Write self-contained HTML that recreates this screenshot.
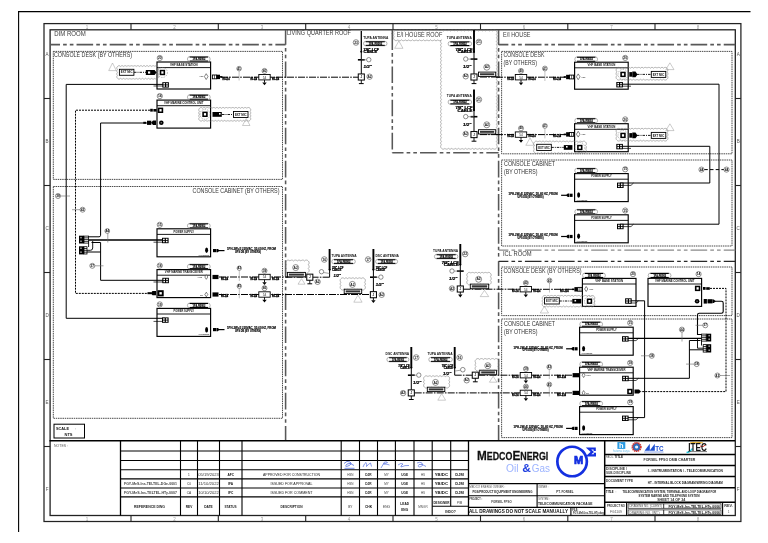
<!DOCTYPE html>
<html><head><meta charset="utf-8"><title>VHF Block Diagram</title>
<style>html,body{margin:0;padding:0;background:#fff;}svg{display:block}text{font-family:"Liberation Sans",sans-serif}</style>
</head><body>
<svg width="768" height="543" viewBox="0 0 768 543" shape-rendering="geometricPrecision" style="will-change:transform">
<rect x="0" y="0" width="768" height="543" fill="#fff"/>
<line x1="18" y1="11.6" x2="750.5" y2="11.6" stroke="#000" stroke-width="1.1"/>
<line x1="18.6" y1="11" x2="18.6" y2="532" stroke="#000" stroke-width="1.1"/>
<rect x="44" y="23.6" width="696.9" height="497.9" fill="none" stroke="#222" stroke-width="1.25"/>
<rect x="50.1" y="29.8" width="685.2" height="485.7" fill="none" stroke="#222" stroke-width="1.3"/>
<line x1="131" y1="23.6" x2="131" y2="29.8" stroke="#222" stroke-width="1.1"/>
<line x1="131" y1="515.5" x2="131" y2="521.5" stroke="#222" stroke-width="1.1"/>
<line x1="218.3" y1="23.6" x2="218.3" y2="29.8" stroke="#222" stroke-width="1.1"/>
<line x1="218.3" y1="515.5" x2="218.3" y2="521.5" stroke="#222" stroke-width="1.1"/>
<line x1="305.7" y1="23.6" x2="305.7" y2="29.8" stroke="#222" stroke-width="1.1"/>
<line x1="305.7" y1="515.5" x2="305.7" y2="521.5" stroke="#222" stroke-width="1.1"/>
<line x1="393" y1="23.6" x2="393" y2="29.8" stroke="#222" stroke-width="1.1"/>
<line x1="393" y1="515.5" x2="393" y2="521.5" stroke="#222" stroke-width="1.1"/>
<line x1="480.5" y1="23.6" x2="480.5" y2="29.8" stroke="#222" stroke-width="1.1"/>
<line x1="480.5" y1="515.5" x2="480.5" y2="521.5" stroke="#222" stroke-width="1.1"/>
<line x1="567.8" y1="23.6" x2="567.8" y2="29.8" stroke="#222" stroke-width="1.1"/>
<line x1="567.8" y1="515.5" x2="567.8" y2="521.5" stroke="#222" stroke-width="1.1"/>
<line x1="655" y1="23.6" x2="655" y2="29.8" stroke="#222" stroke-width="1.1"/>
<line x1="655" y1="515.5" x2="655" y2="521.5" stroke="#222" stroke-width="1.1"/>
<line x1="44" y1="98.5" x2="50.1" y2="98.5" stroke="#222" stroke-width="1.1"/>
<line x1="735.3" y1="98.5" x2="740.9" y2="98.5" stroke="#222" stroke-width="1.1"/>
<line x1="44" y1="185.5" x2="50.1" y2="185.5" stroke="#222" stroke-width="1.1"/>
<line x1="735.3" y1="185.5" x2="740.9" y2="185.5" stroke="#222" stroke-width="1.1"/>
<line x1="44" y1="272.5" x2="50.1" y2="272.5" stroke="#222" stroke-width="1.1"/>
<line x1="735.3" y1="272.5" x2="740.9" y2="272.5" stroke="#222" stroke-width="1.1"/>
<line x1="44" y1="359.5" x2="50.1" y2="359.5" stroke="#222" stroke-width="1.1"/>
<line x1="735.3" y1="359.5" x2="740.9" y2="359.5" stroke="#222" stroke-width="1.1"/>
<line x1="44" y1="446.5" x2="50.1" y2="446.5" stroke="#222" stroke-width="1.1"/>
<line x1="735.3" y1="446.5" x2="740.9" y2="446.5" stroke="#222" stroke-width="1.1"/>
<text x="87" y="28.6" font-family="Liberation Sans" font-size="4.5" text-anchor="middle" fill="#999">1</text>
<text x="87" y="520.6" font-family="Liberation Sans" font-size="4.5" text-anchor="middle" fill="#999">1</text>
<text x="174.5" y="28.6" font-family="Liberation Sans" font-size="4.5" text-anchor="middle" fill="#999">2</text>
<text x="174.5" y="520.6" font-family="Liberation Sans" font-size="4.5" text-anchor="middle" fill="#999">2</text>
<text x="262" y="28.6" font-family="Liberation Sans" font-size="4.5" text-anchor="middle" fill="#999">3</text>
<text x="262" y="520.6" font-family="Liberation Sans" font-size="4.5" text-anchor="middle" fill="#999">3</text>
<text x="349" y="28.6" font-family="Liberation Sans" font-size="4.5" text-anchor="middle" fill="#999">4</text>
<text x="349" y="520.6" font-family="Liberation Sans" font-size="4.5" text-anchor="middle" fill="#999">4</text>
<text x="436.5" y="28.6" font-family="Liberation Sans" font-size="4.5" text-anchor="middle" fill="#999">5</text>
<text x="436.5" y="520.6" font-family="Liberation Sans" font-size="4.5" text-anchor="middle" fill="#999">5</text>
<text x="524" y="28.6" font-family="Liberation Sans" font-size="4.5" text-anchor="middle" fill="#999">6</text>
<text x="524" y="520.6" font-family="Liberation Sans" font-size="4.5" text-anchor="middle" fill="#999">6</text>
<text x="611.5" y="28.6" font-family="Liberation Sans" font-size="4.5" text-anchor="middle" fill="#999">7</text>
<text x="611.5" y="520.6" font-family="Liberation Sans" font-size="4.5" text-anchor="middle" fill="#999">7</text>
<text x="698" y="28.6" font-family="Liberation Sans" font-size="4.5" text-anchor="middle" fill="#999">8</text>
<text x="698" y="520.6" font-family="Liberation Sans" font-size="4.5" text-anchor="middle" fill="#999">8</text>
<text x="47" y="55.5" font-family="Liberation Sans" font-size="4.5" text-anchor="middle" fill="#555">A</text>
<text x="738.2" y="55.5" font-family="Liberation Sans" font-size="4.5" text-anchor="middle" fill="#555">A</text>
<text x="47" y="142.5" font-family="Liberation Sans" font-size="4.5" text-anchor="middle" fill="#555">B</text>
<text x="738.2" y="142.5" font-family="Liberation Sans" font-size="4.5" text-anchor="middle" fill="#555">B</text>
<text x="47" y="229.5" font-family="Liberation Sans" font-size="4.5" text-anchor="middle" fill="#555">C</text>
<text x="738.2" y="229.5" font-family="Liberation Sans" font-size="4.5" text-anchor="middle" fill="#555">C</text>
<text x="47" y="316.5" font-family="Liberation Sans" font-size="4.5" text-anchor="middle" fill="#555">D</text>
<text x="738.2" y="316.5" font-family="Liberation Sans" font-size="4.5" text-anchor="middle" fill="#555">D</text>
<text x="47" y="403.5" font-family="Liberation Sans" font-size="4.5" text-anchor="middle" fill="#555">E</text>
<text x="738.2" y="403.5" font-family="Liberation Sans" font-size="4.5" text-anchor="middle" fill="#555">E</text>
<text x="47" y="490.5" font-family="Liberation Sans" font-size="4.5" text-anchor="middle" fill="#555">F</text>
<text x="738.2" y="490.5" font-family="Liberation Sans" font-size="4.5" text-anchor="middle" fill="#555">F</text>
<text x="54.2" y="36.4" font-family="Liberation Sans" font-size="6.3" textLength="31.5" lengthAdjust="spacingAndGlyphs" fill="#3a3a3a">DIM ROOM</text>
<line x1="50.1" y1="44.6" x2="285.6" y2="44.6" stroke="#585858" stroke-width="1.55" stroke-dasharray="16.6 3.1 3.65 3.05 3.65 3.09" stroke-dashoffset="6.7"/>
<text x="287" y="35.4" font-family="Liberation Sans" font-size="6.3" textLength="64" lengthAdjust="spacingAndGlyphs" fill="#3a3a3a">LIVING QUARTER ROOF</text>
<line x1="285.6" y1="30" x2="285.6" y2="440.7" stroke="#585858" stroke-width="1.55" stroke-dasharray="16.6 3.1 3.65 3.05 3.65 3.09" stroke-dashoffset="1.74"/>
<text x="396.8" y="36.8" font-family="Liberation Sans" font-size="6.3" textLength="45.5" lengthAdjust="spacingAndGlyphs" fill="#3a3a3a">E/I HOUSE ROOF</text>
<line x1="392.3" y1="30" x2="392.3" y2="34" stroke="#505050" stroke-width="1.45"/>
<line x1="392.3" y1="30" x2="392.3" y2="152.8" stroke="#585858" stroke-width="1.55" stroke-dasharray="16.6 3.1 3.65 3.05 3.65 3.09" stroke-dashoffset="29.78"/>
<line x1="392.3" y1="152.8" x2="498.6" y2="152.8" stroke="#585858" stroke-width="1.55" stroke-dasharray="16.6 3.1 3.65 3.05 3.65 3.09" stroke-dashoffset="5.4"/>
<line x1="498.6" y1="30" x2="498.6" y2="250.1" stroke="#585858" stroke-width="1.55" stroke-dasharray="16.6 3.1 3.65 3.05 3.65 3.09" stroke-dashoffset="1.7"/>
<line x1="498.6" y1="253" x2="498.6" y2="256.6" stroke="#505050" stroke-width="1.45"/>
<line x1="498.6" y1="261.3" x2="498.6" y2="440.7" stroke="#585858" stroke-width="1.55" stroke-dasharray="16.6 3.1 3.65 3.05 3.65 3.09" stroke-dashoffset="1.9"/>
<text x="503" y="36.8" font-family="Liberation Sans" font-size="6.3" textLength="27.5" lengthAdjust="spacingAndGlyphs" fill="#3a3a3a">E/I HOUSE</text>
<line x1="498.6" y1="44.6" x2="735.3" y2="44.6" stroke="#585858" stroke-width="1.55" stroke-dasharray="16.6 3.1 3.65 3.05 3.65 3.09" stroke-dashoffset="6.84"/>
<line x1="498.6" y1="250.1" x2="735.3" y2="250.1" stroke="#8a8a8a" stroke-width="1.1" stroke-dasharray="16.6 3.1 3.65 3.05 3.65 3.09" stroke-dashoffset="6.84"/>
<text x="503" y="256.4" font-family="Liberation Sans" font-size="6.6" textLength="28.6" lengthAdjust="spacingAndGlyphs" fill="#3a3a3a">ICL ROOM</text>
<line x1="498.6" y1="261.4" x2="735.3" y2="261.4" stroke="#2a2a2a" stroke-width="1.4" stroke-dasharray="16.6 3.1 3.65 3.05 3.65 3.09" stroke-dashoffset="6.84"/>
<rect x="53.3" y="51.4" width="229.2" height="128.0" fill="none" stroke="#2a2a2a" stroke-width="0.85" stroke-dasharray="1.5 0.75"/>
<rect x="53.3" y="186.5" width="229.2" height="231.8" fill="none" stroke="#2a2a2a" stroke-width="0.85" stroke-dasharray="1.5 0.75"/>
<rect x="501.6" y="51.4" width="230.39999999999998" height="102.4" fill="none" stroke="#2a2a2a" stroke-width="0.85" stroke-dasharray="1.5 0.75"/>
<rect x="501.6" y="160" width="230.39999999999998" height="86" fill="none" stroke="#2a2a2a" stroke-width="0.85" stroke-dasharray="1.5 0.75"/>
<rect x="501.6" y="267" width="230.39999999999998" height="48.60000000000002" fill="none" stroke="#2a2a2a" stroke-width="0.85" stroke-dasharray="1.5 0.75"/>
<rect x="501.6" y="319" width="230.39999999999998" height="118.60000000000002" fill="none" stroke="#2a2a2a" stroke-width="0.85" stroke-dasharray="1.5 0.75"/>
<text x="54" y="56.9" font-family="Liberation Sans" font-size="6.6" textLength="78" lengthAdjust="spacingAndGlyphs" fill="#333">CONSOLE DESK (BY OTHERS)</text>
<text x="192.5" y="193.3" font-family="Liberation Sans" font-size="6.6" textLength="87" lengthAdjust="spacingAndGlyphs" fill="#333">CONSOLE CABINET (BY OTHERS)</text>
<text x="503.5" y="56.7" font-family="Liberation Sans" font-size="6.6" textLength="41" lengthAdjust="spacingAndGlyphs" fill="#333">CONSOLE DESK</text>
<text x="503.5" y="64.8" font-family="Liberation Sans" font-size="6.6" textLength="33.5" lengthAdjust="spacingAndGlyphs" fill="#333">(BY OTHERS)</text>
<text x="504" y="166.3" font-family="Liberation Sans" font-size="6.6" textLength="51" lengthAdjust="spacingAndGlyphs" fill="#333">CONSOLE CABINET</text>
<text x="504" y="174.4" font-family="Liberation Sans" font-size="6.6" textLength="33.5" lengthAdjust="spacingAndGlyphs" fill="#333">(BY OTHERS)</text>
<text x="503.5" y="273.3" font-family="Liberation Sans" font-size="6.6" textLength="78" lengthAdjust="spacingAndGlyphs" fill="#333">CONSOLE DESK (BY OTHERS)</text>
<text x="504" y="325.6" font-family="Liberation Sans" font-size="6.6" textLength="51" lengthAdjust="spacingAndGlyphs" fill="#333">CONSOLE CABINET</text>
<text x="504" y="333.7" font-family="Liberation Sans" font-size="6.6" textLength="33.5" lengthAdjust="spacingAndGlyphs" fill="#333">(BY OTHERS)</text>
<rect x="157" y="62.0" width="53.6" height="27.0" fill="#fff" stroke="#000" stroke-width="1.15"/>
<line x1="157" y1="67.6" x2="210.6" y2="67.6" stroke="#000" stroke-width="0.9"/>
<text x="169.95000000000002" y="65.8" font-family="Liberation Sans" font-size="2.8" font-weight="bold" textLength="27.7" lengthAdjust="spacingAndGlyphs" fill="#111">VHF BASE STATION</text>
<circle cx="159.8" cy="58.0" r="2.6" fill="#fff" stroke="#333" stroke-width="0.55"/>
<text x="159.8" y="59.15" font-family="Liberation Sans" font-size="3.3" text-anchor="middle" font-weight="bold" fill="#111">20</text>
<rect x="187.4" y="56.6" width="22.8" height="4.9" fill="#fff" stroke="#666" stroke-width="0.5" rx="2.45"/>
<line x1="189.6" y1="57.050000000000004" x2="208.00000000000003" y2="57.050000000000004" stroke="#000" stroke-width="1.05"/>
<line x1="189.6" y1="61.05" x2="208.00000000000003" y2="61.05" stroke="#000" stroke-width="1.05"/>
<text x="192.6" y="60.2" font-family="Liberation Sans" font-size="3.1" font-weight="bold" textLength="12.8" lengthAdjust="spacingAndGlyphs" stroke="#000" stroke-width="0.15" fill="#000">1FA-R0002</text>
<rect x="157" y="100.1" width="53.6" height="28.0" fill="#fff" stroke="#000" stroke-width="1.15"/>
<line x1="157" y1="105.69999999999999" x2="210.6" y2="105.69999999999999" stroke="#000" stroke-width="0.9"/>
<text x="164.05" y="103.89999999999999" font-family="Liberation Sans" font-size="2.8" font-weight="bold" textLength="39.5" lengthAdjust="spacingAndGlyphs" fill="#111">VHF MARINE CONTROL UNIT</text>
<circle cx="159.8" cy="96.1" r="2.6" fill="#fff" stroke="#333" stroke-width="0.55"/>
<text x="159.8" y="97.25" font-family="Liberation Sans" font-size="3.3" text-anchor="middle" font-weight="bold" fill="#111">14</text>
<rect x="187.4" y="94.69999999999999" width="22.8" height="4.9" fill="#fff" stroke="#666" stroke-width="0.5" rx="2.45"/>
<line x1="189.6" y1="95.14999999999999" x2="208.00000000000003" y2="95.14999999999999" stroke="#000" stroke-width="1.05"/>
<line x1="189.6" y1="99.14999999999999" x2="208.00000000000003" y2="99.14999999999999" stroke="#000" stroke-width="1.05"/>
<text x="192.6" y="98.3" font-family="Liberation Sans" font-size="3.1" font-weight="bold" textLength="12.8" lengthAdjust="spacingAndGlyphs" stroke="#000" stroke-width="0.15" fill="#000">1FA-R0002</text>
<rect x="157" y="228.8" width="53.6" height="28.0" fill="#fff" stroke="#000" stroke-width="1.15"/>
<line x1="157" y1="234.4" x2="210.6" y2="234.4" stroke="#000" stroke-width="0.9"/>
<text x="173.55" y="232.6" font-family="Liberation Sans" font-size="2.8" font-weight="bold" textLength="20.5" lengthAdjust="spacingAndGlyphs" fill="#111">POWER SUPPLY</text>
<circle cx="159.8" cy="224.8" r="2.6" fill="#fff" stroke="#333" stroke-width="0.55"/>
<text x="159.8" y="225.95000000000002" font-family="Liberation Sans" font-size="3.3" text-anchor="middle" font-weight="bold" fill="#111">15</text>
<rect x="187.4" y="223.4" width="22.8" height="4.9" fill="#fff" stroke="#666" stroke-width="0.5" rx="2.45"/>
<line x1="189.6" y1="223.85" x2="208.00000000000003" y2="223.85" stroke="#000" stroke-width="1.05"/>
<line x1="189.6" y1="227.85000000000002" x2="208.00000000000003" y2="227.85000000000002" stroke="#000" stroke-width="1.05"/>
<text x="192.6" y="227.0" font-family="Liberation Sans" font-size="3.1" font-weight="bold" textLength="12.8" lengthAdjust="spacingAndGlyphs" stroke="#000" stroke-width="0.15" fill="#000">1FA-R0002</text>
<rect x="157" y="269.6" width="53.6" height="28.0" fill="#fff" stroke="#000" stroke-width="1.15"/>
<line x1="157" y1="275.20000000000005" x2="210.6" y2="275.20000000000005" stroke="#000" stroke-width="0.9"/>
<text x="164.8" y="273.40000000000003" font-family="Liberation Sans" font-size="2.8" font-weight="bold" textLength="38" lengthAdjust="spacingAndGlyphs" fill="#111">VHF MARINE TRANSCEIVER</text>
<circle cx="159.8" cy="265.6" r="2.6" fill="#fff" stroke="#333" stroke-width="0.55"/>
<text x="159.8" y="266.75" font-family="Liberation Sans" font-size="3.3" text-anchor="middle" font-weight="bold" fill="#111">18</text>
<rect x="187.4" y="264.20000000000005" width="22.8" height="4.9" fill="#fff" stroke="#666" stroke-width="0.5" rx="2.45"/>
<line x1="189.6" y1="264.65000000000003" x2="208.00000000000003" y2="264.65000000000003" stroke="#000" stroke-width="1.05"/>
<line x1="189.6" y1="268.65000000000003" x2="208.00000000000003" y2="268.65000000000003" stroke="#000" stroke-width="1.05"/>
<text x="192.6" y="267.8" font-family="Liberation Sans" font-size="3.1" font-weight="bold" textLength="12.8" lengthAdjust="spacingAndGlyphs" stroke="#000" stroke-width="0.15" fill="#000">1FA-R0002</text>
<rect x="157" y="308.4" width="53.6" height="28.0" fill="#fff" stroke="#000" stroke-width="1.15"/>
<line x1="157" y1="314.0" x2="210.6" y2="314.0" stroke="#000" stroke-width="0.9"/>
<text x="173.55" y="312.2" font-family="Liberation Sans" font-size="2.8" font-weight="bold" textLength="20.5" lengthAdjust="spacingAndGlyphs" fill="#111">POWER SUPPLY</text>
<circle cx="159.8" cy="304.4" r="2.6" fill="#fff" stroke="#333" stroke-width="0.55"/>
<text x="159.8" y="305.54999999999995" font-family="Liberation Sans" font-size="3.3" text-anchor="middle" font-weight="bold" fill="#111">19</text>
<rect x="187.4" y="303.0" width="22.8" height="4.9" fill="#fff" stroke="#666" stroke-width="0.5" rx="2.45"/>
<line x1="189.6" y1="303.45" x2="208.00000000000003" y2="303.45" stroke="#000" stroke-width="1.05"/>
<line x1="189.6" y1="307.45" x2="208.00000000000003" y2="307.45" stroke="#000" stroke-width="1.05"/>
<text x="192.6" y="306.59999999999997" font-family="Liberation Sans" font-size="3.1" font-weight="bold" textLength="12.8" lengthAdjust="spacingAndGlyphs" stroke="#000" stroke-width="0.15" fill="#000">1FA-R0002</text>
<polyline points="165,84.4 66.2,84.4 66.2,318.3 165,318.3" fill="none" stroke="#000" stroke-width="1"/>
<line x1="153.5" y1="86" x2="165" y2="86" stroke="#000" stroke-width="0.7"/>
<polyline points="150,110.2 75.5,110.2 75.5,293.4 150,293.4" fill="none" stroke="#000" stroke-width="1" stroke-dasharray="2 1"/>
<path d="M147,123 L100.6,123 L100.6,235.3 Q100.6,236.8 99,236.8 L88,236.8" fill="none" stroke="#000" stroke-width="1" />
<line x1="88" y1="240.0" x2="165" y2="240.0" stroke="#000" stroke-width="1.3"/>
<path d="M91.5,242.5 L100.6,242.5 L100.6,280.3 L165,280.3" fill="none" stroke="#000" stroke-width="1" />
<line x1="86" y1="252" x2="100.6" y2="252" stroke="#000" stroke-width="1"/>
<line x1="88.6" y1="240" x2="88.6" y2="247" stroke="#000" stroke-width="0.9"/>
<path d="M92.7,241 L92.7,248 Q92.7,250.3 90.4,250.3 L86,250.3" fill="none" stroke="#000" stroke-width="0.9" />
<line x1="153.5" y1="242.2" x2="165" y2="242.2" stroke="#000" stroke-width="0.7"/>
<line x1="153.5" y1="282" x2="165" y2="282" stroke="#000" stroke-width="0.7"/>
<line x1="153.5" y1="321.4" x2="165" y2="321.4" stroke="#000" stroke-width="0.7"/>
<circle cx="162.4" cy="72.5" r="5" fill="none" stroke="#777" stroke-width="0.5" stroke-dasharray="1.5 1"/>
<rect x="159.70000000000002" y="69.8" width="5.4" height="5.4" fill="#000" stroke="none" stroke-width="0"/>
<rect x="161.3" y="71.3" width="2.2" height="2.4" fill="#fff" stroke="none" stroke-width="0"/>
<rect x="162.29999999999998" y="82.2" width="6.6" height="5.4" fill="#000" stroke="none" stroke-width="0"/>
<rect x="163.4" y="83.10000000000001" width="1.6" height="1.4" fill="#fff" stroke="none" stroke-width="0"/>
<rect x="163.4" y="85.30000000000001" width="1.6" height="1.4" fill="#fff" stroke="none" stroke-width="0"/>
<rect x="166.2" y="83.10000000000001" width="1.6" height="1.4" fill="#fff" stroke="none" stroke-width="0"/>
<rect x="166.2" y="85.30000000000001" width="1.6" height="1.4" fill="#fff" stroke="none" stroke-width="0"/>
<text x="199.3" y="77.4" font-family="Liberation Sans" font-size="2.1" font-weight="bold" fill="#333">ANT</text>
<path d="M206.2,73.69999999999999 L208.0,76.6 L206.2,79.5 L204.39999999999998,76.6 Z" fill="#fff" stroke="#222" stroke-width="0.55" />
<path d="M117.5,66.5 A1.93,1.93 0 0 1 120.62,66.50 A1.93,1.93 0 0 1 123.73,66.50 A1.93,1.93 0 0 1 126.85,66.50 A1.93,1.93 0 0 1 129.96,66.50 A1.93,1.93 0 0 1 133.08,66.50 A1.93,1.93 0 0 1 136.19,66.50 A1.93,1.93 0 0 1 139.31,66.50 A1.93,1.93 0 0 1 142.42,66.50 A1.93,1.93 0 0 1 145.54,66.50 A1.93,1.93 0 0 1 148.65,66.50 A1.93,1.93 0 0 1 151.77,66.50 A1.93,1.93 0 0 1 154.88,66.50 A1.93,1.93 0 0 1 158.00,66.50 A1.83,1.83 0 0 1 158.00,69.45 A1.83,1.83 0 0 1 158.00,72.40 A1.83,1.83 0 0 1 158.00,75.35 A1.83,1.83 0 0 1 158.00,78.30 A1.93,1.93 0 0 1 154.88,78.30 A1.93,1.93 0 0 1 151.77,78.30 A1.93,1.93 0 0 1 148.65,78.30 A1.93,1.93 0 0 1 145.54,78.30 A1.93,1.93 0 0 1 142.42,78.30 A1.93,1.93 0 0 1 139.31,78.30 A1.93,1.93 0 0 1 136.19,78.30 A1.93,1.93 0 0 1 133.08,78.30 A1.93,1.93 0 0 1 129.96,78.30 A1.93,1.93 0 0 1 126.85,78.30 A1.93,1.93 0 0 1 123.73,78.30 A1.93,1.93 0 0 1 120.62,78.30 A1.93,1.93 0 0 1 117.50,78.30 A1.83,1.83 0 0 1 117.50,75.35 A1.83,1.83 0 0 1 117.50,72.40 A1.83,1.83 0 0 1 117.50,69.45 A1.83,1.83 0 0 1 117.50,66.50" fill="none" stroke="#777" stroke-width="0.55" />
<path d="M112.5,63 L116.3,70.6 L108.7,70.6 Z" fill="none" stroke="#999" stroke-width="0.5" />
<rect x="119.4" y="69.3" width="14.5" height="6" fill="#fff" stroke="#000" stroke-width="0.9"/>
<text x="126.65" y="73.39999999999999" font-family="Liberation Sans" font-size="2.9" text-anchor="middle" font-weight="bold" fill="#111">EXT MIC</text>
<line x1="134" y1="72.3" x2="146" y2="72.3" stroke="#000" stroke-width="0.9" stroke-dasharray="2.5 1 1 1"/>
<path d="M145.8,70.0 L154.60000000000002,70.0 L156.60000000000002,72.5 L154.60000000000002,75.0 L145.8,75.0 Z" fill="#000" stroke="none" stroke-width="0" />
<rect x="148" y="71.4" width="2.2" height="2.2" fill="#fff" stroke="none" stroke-width="0"/>
<line x1="221" y1="77.2" x2="358.5" y2="77.2" stroke="#000" stroke-width="1" stroke-dasharray="7 1.2 1.6 1.2"/>
<rect x="212.4" y="75.0" width="4.2" height="3.8" fill="#fff" stroke="#000" stroke-width="0.9"/>
<line x1="214.5" y1="75.0" x2="214.5" y2="78.80000000000001" stroke="#000" stroke-width="0.6"/>
<rect x="216.6" y="74.7" width="3.4" height="4.4" fill="#000" stroke="none" stroke-width="0"/>
<line x1="220.0" y1="76.9" x2="222.4" y2="76.9" stroke="#000" stroke-width="1.6"/>
<text x="222.5" y="79.89999999999999" font-family="Liberation Sans" font-size="2.7" font-weight="bold" textLength="7" lengthAdjust="spacingAndGlyphs" stroke="#000" stroke-width="0.3" fill="#000">RG-214</text>
<text x="250.5" y="79.89999999999999" font-family="Liberation Sans" font-size="2.7" font-weight="bold" textLength="6.5" lengthAdjust="spacingAndGlyphs" stroke="#000" stroke-width="0.3" fill="#000">RG-214</text>
<text x="272" y="79.89999999999999" font-family="Liberation Sans" font-size="2.7" font-weight="bold" textLength="7" lengthAdjust="spacingAndGlyphs" stroke="#000" stroke-width="0.3" fill="#000">RG-214</text>
<circle cx="239.1" cy="68.6" r="2.3" fill="#fff" stroke="#333" stroke-width="0.55"/>
<text x="239.1" y="69.75" font-family="Liberation Sans" font-size="3.3" text-anchor="middle" font-weight="bold" fill="#111">41</text>
<line x1="239.1" y1="70.9" x2="239.1" y2="80.5" stroke="#888" stroke-width="0.5"/>
<rect x="258.8" y="74.5" width="11.4" height="5.4" fill="#fff" stroke="#000" stroke-width="0.9"/>
<text x="264.5" y="78.5" font-family="Liberation Sans" font-size="3.2" text-anchor="middle" fill="#222">54</text>
<circle cx="264.5" cy="70.9" r="2.5" fill="#fff" stroke="#333" stroke-width="0.55"/>
<text x="264.5" y="72.05000000000001" font-family="Liberation Sans" font-size="3.3" text-anchor="middle" font-weight="bold" fill="#111">40</text>
<line x1="264.5" y1="79.9" x2="264.5" y2="82.5" stroke="#000" stroke-width="0.9"/>
<path d="M262.3,82.5 L266.7,82.5 L264.5,85.3 Z" fill="#000" stroke="none" stroke-width="0" />
<rect x="157.8" y="107.6" width="5.4" height="5.4" fill="#000" stroke="none" stroke-width="0"/>
<rect x="159.4" y="109.1" width="2.2" height="2.4" fill="#fff" stroke="none" stroke-width="0"/>
<rect x="150.2" y="108.8" width="2.6" height="2.8" fill="#000" stroke="none" stroke-width="0"/>
<rect x="153.4" y="109" width="3.2" height="2.6" fill="#000" stroke="none" stroke-width="0"/>
<circle cx="161.3" cy="122.8" r="2.3" fill="#000" stroke="none" stroke-width="0"/>
<circle cx="161.3" cy="122.8" r="0.8" fill="#777" stroke="none" stroke-width="0"/>
<path d="M156,120.5 L153,120.5 L151,122.8 L153,125.1 L156,125.1 Z" fill="#000" stroke="none" stroke-width="0" />
<rect x="147" y="120.7" width="4.3" height="4.2" fill="#000" stroke="none" stroke-width="0"/>
<rect x="143.3" y="121.8" width="2.7" height="2" fill="#000" stroke="none" stroke-width="0"/>
<path d="M199.5,108.3 A1.96,1.96 0 0 1 202.66,108.30 A1.96,1.96 0 0 1 205.81,108.30 A1.96,1.96 0 0 1 208.97,108.30 A1.96,1.96 0 0 1 212.12,108.30 A1.96,1.96 0 0 1 215.28,108.30 A1.96,1.96 0 0 1 218.44,108.30 A1.96,1.96 0 0 1 221.59,108.30 A1.96,1.96 0 0 1 224.75,108.30 A1.96,1.96 0 0 1 227.91,108.30 A1.96,1.96 0 0 1 231.06,108.30 A1.96,1.96 0 0 1 234.22,108.30 A1.96,1.96 0 0 1 237.38,108.30 A1.96,1.96 0 0 1 240.53,108.30 A1.96,1.96 0 0 1 243.69,108.30 A1.96,1.96 0 0 1 246.84,108.30 A1.96,1.96 0 0 1 250.00,108.30 A1.86,1.86 0 0 1 250.00,111.30 A1.86,1.86 0 0 1 250.00,114.30 A1.86,1.86 0 0 1 250.00,117.30 A1.86,1.86 0 0 1 250.00,120.30 A1.96,1.96 0 0 1 246.84,120.30 A1.96,1.96 0 0 1 243.69,120.30 A1.96,1.96 0 0 1 240.53,120.30 A1.96,1.96 0 0 1 237.38,120.30 A1.96,1.96 0 0 1 234.22,120.30 A1.96,1.96 0 0 1 231.06,120.30 A1.96,1.96 0 0 1 227.91,120.30 A1.96,1.96 0 0 1 224.75,120.30 A1.96,1.96 0 0 1 221.59,120.30 A1.96,1.96 0 0 1 218.44,120.30 A1.96,1.96 0 0 1 215.28,120.30 A1.96,1.96 0 0 1 212.12,120.30 A1.96,1.96 0 0 1 208.97,120.30 A1.96,1.96 0 0 1 205.81,120.30 A1.96,1.96 0 0 1 202.66,120.30 A1.96,1.96 0 0 1 199.50,120.30 A1.86,1.86 0 0 1 199.50,117.30 A1.86,1.86 0 0 1 199.50,114.30 A1.86,1.86 0 0 1 199.50,111.30 A1.86,1.86 0 0 1 199.50,108.30" fill="none" stroke="#777" stroke-width="0.55" />
<circle cx="205" cy="114.3" r="5" fill="none" stroke="#777" stroke-width="0.5" stroke-dasharray="1.5 1"/>
<rect x="202.3" y="111.6" width="5.4" height="5.4" fill="#000" stroke="none" stroke-width="0"/>
<rect x="203.9" y="113.1" width="2.2" height="2.4" fill="#fff" stroke="none" stroke-width="0"/>
<rect x="212.5" y="112" width="9.3" height="4.8" fill="#000" stroke="none" stroke-width="0"/>
<rect x="219" y="113" width="1.6" height="1.6" fill="#fff" stroke="none" stroke-width="0"/>
<line x1="222" y1="114.5" x2="233.5" y2="114.5" stroke="#000" stroke-width="0.9" stroke-dasharray="2.5 1 1 1"/>
<rect x="233.5" y="111.5" width="14.5" height="6" fill="#fff" stroke="#000" stroke-width="0.9"/>
<text x="240.75" y="115.6" font-family="Liberation Sans" font-size="2.9" text-anchor="middle" font-weight="bold" fill="#111">EXT MIC</text>
<path d="M246.25,118.5 L250,125.5 L242.5,125.5 Z" fill="none" stroke="#999" stroke-width="0.5" />
<rect x="79" y="235.7" width="5" height="7.8" fill="#000" stroke="none" stroke-width="0"/>
<rect x="84" y="236.1" width="4.6" height="7.0" fill="#fff" stroke="#000" stroke-width="0.8"/>
<line x1="82.5" y1="237.85" x2="88.6" y2="237.85" stroke="#000" stroke-width="0.8"/>
<line x1="82.5" y1="239.6" x2="88.6" y2="239.6" stroke="#000" stroke-width="0.8"/>
<line x1="82.5" y1="241.35" x2="88.6" y2="241.35" stroke="#000" stroke-width="0.8"/>
<rect x="80.2" y="236.89999999999998" width="1.6" height="1.5" fill="#999" stroke="none" stroke-width="0"/>
<rect x="80.2" y="240.5" width="1.6" height="1.5" fill="#999" stroke="none" stroke-width="0"/>
<rect x="79" y="246.3" width="5" height="8.1" fill="#000" stroke="none" stroke-width="0"/>
<rect x="84" y="246.70000000000002" width="3" height="7.3" fill="#fff" stroke="#000" stroke-width="0.8"/>
<line x1="82.5" y1="248.525" x2="87" y2="248.525" stroke="#000" stroke-width="0.8"/>
<line x1="82.5" y1="250.35000000000002" x2="87" y2="250.35000000000002" stroke="#000" stroke-width="0.8"/>
<line x1="82.5" y1="252.175" x2="87" y2="252.175" stroke="#000" stroke-width="0.8"/>
<rect x="80.2" y="247.5" width="1.6" height="1.5" fill="#999" stroke="none" stroke-width="0"/>
<rect x="80.2" y="251.4" width="1.6" height="1.5" fill="#999" stroke="none" stroke-width="0"/>
<circle cx="58" cy="196" r="2.5" fill="#fff" stroke="#333" stroke-width="0.55"/>
<text x="58" y="197.15" font-family="Liberation Sans" font-size="3.3" text-anchor="middle" font-weight="bold" fill="#111">38</text>
<line x1="60.5" y1="196" x2="70" y2="196" stroke="#666" stroke-width="0.6"/>
<circle cx="82.6" cy="209.7" r="2.5" fill="#fff" stroke="#333" stroke-width="0.55"/>
<text x="82.6" y="210.85" font-family="Liberation Sans" font-size="3.3" text-anchor="middle" font-weight="bold" fill="#111">42</text>
<line x1="72" y1="209.7" x2="80" y2="209.7" stroke="#666" stroke-width="0.6"/>
<circle cx="107.3" cy="231" r="2.4" fill="#fff" stroke="#333" stroke-width="0.55"/>
<text x="107.3" y="232.15" font-family="Liberation Sans" font-size="3.3" text-anchor="middle" font-weight="bold" fill="#111">44</text>
<line x1="107.8" y1="233.4" x2="107.8" y2="242.5" stroke="#666" stroke-width="0.6"/>
<circle cx="92.3" cy="265.8" r="2.5" fill="#fff" stroke="#333" stroke-width="0.55"/>
<text x="92.3" y="266.95" font-family="Liberation Sans" font-size="3.3" text-anchor="middle" font-weight="bold" fill="#111">37</text>
<line x1="94.8" y1="265.8" x2="103.5" y2="265.8" stroke="#666" stroke-width="0.6"/>
<rect x="162.0" y="237.8" width="6.6" height="5.4" fill="#000" stroke="none" stroke-width="0"/>
<rect x="163.10000000000002" y="238.7" width="1.6" height="1.4" fill="#fff" stroke="none" stroke-width="0"/>
<rect x="163.10000000000002" y="240.9" width="1.6" height="1.4" fill="#fff" stroke="none" stroke-width="0"/>
<rect x="165.9" y="238.7" width="1.6" height="1.4" fill="#fff" stroke="none" stroke-width="0"/>
<rect x="165.9" y="240.9" width="1.6" height="1.4" fill="#fff" stroke="none" stroke-width="0"/>
<ellipse cx="206.6" cy="250.20000000000002" rx="1.5" ry="2.7" fill="#000"/>
<text x="198.5" y="255.8" font-family="Liberation Sans" font-size="2.3" font-weight="bold" fill="#111">AC INPUT</text>
<rect x="213" y="249.0" width="3" height="3.2" fill="#000" stroke="none" stroke-width="0"/>
<path d="M216.4,248.9 L217.8,248.9 L219.8,250.6 L217.8,252.29999999999998 L216.4,252.29999999999998 Z" fill="#000" stroke="none" stroke-width="0" />
<line x1="219" y1="250.6" x2="224.5" y2="250.6" stroke="#000" stroke-width="1.2"/>
<text x="227" y="250.4" font-family="Liberation Sans" font-size="2.6" font-weight="bold" textLength="49" lengthAdjust="spacingAndGlyphs" stroke="#000" stroke-width="0.12" fill="#000">1PH-2W+E 220VAC, 50-60 HZ, FROM</text>
<text x="235" y="253.2" font-family="Liberation Sans" font-size="2.6" font-weight="bold" textLength="26" lengthAdjust="spacingAndGlyphs" stroke="#000" stroke-width="0.12" fill="#000">UPS DB (BY OTHERS)</text>
<rect x="162.0" y="317.4" width="6.6" height="5.4" fill="#000" stroke="none" stroke-width="0"/>
<rect x="163.10000000000002" y="318.29999999999995" width="1.6" height="1.4" fill="#fff" stroke="none" stroke-width="0"/>
<rect x="163.10000000000002" y="320.49999999999994" width="1.6" height="1.4" fill="#fff" stroke="none" stroke-width="0"/>
<rect x="165.9" y="318.29999999999995" width="1.6" height="1.4" fill="#fff" stroke="none" stroke-width="0"/>
<rect x="165.9" y="320.49999999999994" width="1.6" height="1.4" fill="#fff" stroke="none" stroke-width="0"/>
<ellipse cx="206.6" cy="329.79999999999995" rx="1.5" ry="2.7" fill="#000"/>
<text x="198.5" y="335.4" font-family="Liberation Sans" font-size="2.3" font-weight="bold" fill="#111">AC INPUT</text>
<rect x="213" y="328.0" width="3" height="3.2" fill="#000" stroke="none" stroke-width="0"/>
<path d="M216.4,327.90000000000003 L217.8,327.90000000000003 L219.8,329.6 L217.8,331.3 L216.4,331.3 Z" fill="#000" stroke="none" stroke-width="0" />
<line x1="219" y1="329.6" x2="224.5" y2="329.6" stroke="#000" stroke-width="1.2"/>
<text x="227" y="329.40000000000003" font-family="Liberation Sans" font-size="2.6" font-weight="bold" textLength="49" lengthAdjust="spacingAndGlyphs" stroke="#000" stroke-width="0.12" fill="#000">1PH-2W+E 220VAC, 50-60 HZ, FROM</text>
<text x="235" y="332.20000000000005" font-family="Liberation Sans" font-size="2.6" font-weight="bold" textLength="26" lengthAdjust="spacingAndGlyphs" stroke="#000" stroke-width="0.12" fill="#000">UPS DB (BY OTHERS)</text>
<rect x="162.29999999999998" y="277.8" width="6.6" height="5.4" fill="#000" stroke="none" stroke-width="0"/>
<rect x="163.4" y="278.7" width="1.6" height="1.4" fill="#fff" stroke="none" stroke-width="0"/>
<rect x="163.4" y="280.9" width="1.6" height="1.4" fill="#fff" stroke="none" stroke-width="0"/>
<rect x="166.2" y="278.7" width="1.6" height="1.4" fill="#fff" stroke="none" stroke-width="0"/>
<rect x="166.2" y="280.9" width="1.6" height="1.4" fill="#fff" stroke="none" stroke-width="0"/>
<rect x="157.5" y="290.2" width="6.2" height="6.2" fill="#000" stroke="none" stroke-width="0"/>
<rect x="159.4" y="292.1" width="2.4" height="2.4" fill="#fff" stroke="none" stroke-width="0"/>
<path d="M156,291.09999999999997 L152.5,291.09999999999997 L150.5,293.2 L152.5,295.3 L156,295.3 Z" fill="#000" stroke="none" stroke-width="0" />
<rect x="147.5" y="292.2" width="3.5" height="2" fill="#000" stroke="none" stroke-width="0"/>
<text x="197.5" y="278.0" font-family="Liberation Sans" font-size="2.1" font-weight="bold" fill="#333">A/TX</text>
<path d="M206.3,274.7 L207.8,277 L206.3,279.3 L204.8,277 Z" fill="#fff" stroke="#222" stroke-width="0.55" />
<text x="200" y="295.5" font-family="Liberation Sans" font-size="2.1" font-weight="bold" fill="#333">RX</text>
<path d="M206.3,292.2 L207.8,294.5 L206.3,296.8 L204.8,294.5 Z" fill="#fff" stroke="#222" stroke-width="0.55" />
<line x1="219" y1="277" x2="288" y2="277" stroke="#000" stroke-width="1" stroke-dasharray="7 1.2 1.6 1.2"/>
<rect x="212.5" y="274.9" width="6" height="4.2" fill="#000" stroke="none" stroke-width="0"/>
<text x="221" y="279.70000000000005" font-family="Liberation Sans" font-size="2.7" font-weight="bold" textLength="7" lengthAdjust="spacingAndGlyphs" stroke="#000" stroke-width="0.3" fill="#000">RG-214</text>
<text x="250.5" y="279.70000000000005" font-family="Liberation Sans" font-size="2.7" font-weight="bold" textLength="6.5" lengthAdjust="spacingAndGlyphs" stroke="#000" stroke-width="0.3" fill="#000">RG-214</text>
<text x="272" y="279.70000000000005" font-family="Liberation Sans" font-size="2.7" font-weight="bold" textLength="7" lengthAdjust="spacingAndGlyphs" stroke="#000" stroke-width="0.3" fill="#000">RG-214</text>
<rect x="258.8" y="274.3" width="11.4" height="5.4" fill="#fff" stroke="#000" stroke-width="0.9"/>
<text x="264.5" y="278.3" font-family="Liberation Sans" font-size="3.2" text-anchor="middle" fill="#222">54</text>
<circle cx="264.5" cy="270.7" r="2.5" fill="#fff" stroke="#333" stroke-width="0.55"/>
<text x="264.5" y="271.84999999999997" font-family="Liberation Sans" font-size="3.3" text-anchor="middle" font-weight="bold" fill="#111">39</text>
<line x1="264.5" y1="279.7" x2="264.5" y2="282.3" stroke="#000" stroke-width="0.9"/>
<path d="M262.3,282.3 L266.7,282.3 L264.5,285.1 Z" fill="#000" stroke="none" stroke-width="0" />
<line x1="219" y1="294.5" x2="370" y2="294.5" stroke="#000" stroke-width="1" stroke-dasharray="7 1.2 1.6 1.2"/>
<rect x="212.5" y="292.4" width="6" height="4.2" fill="#000" stroke="none" stroke-width="0"/>
<text x="221" y="297.20000000000005" font-family="Liberation Sans" font-size="2.7" font-weight="bold" textLength="7" lengthAdjust="spacingAndGlyphs" stroke="#000" stroke-width="0.3" fill="#000">RG-214</text>
<text x="250.5" y="297.20000000000005" font-family="Liberation Sans" font-size="2.7" font-weight="bold" textLength="6.5" lengthAdjust="spacingAndGlyphs" stroke="#000" stroke-width="0.3" fill="#000">RG-214</text>
<text x="272" y="297.20000000000005" font-family="Liberation Sans" font-size="2.7" font-weight="bold" textLength="7" lengthAdjust="spacingAndGlyphs" stroke="#000" stroke-width="0.3" fill="#000">RG-214</text>
<rect x="258.8" y="291.8" width="11.4" height="5.4" fill="#fff" stroke="#000" stroke-width="0.9"/>
<text x="264.5" y="295.8" font-family="Liberation Sans" font-size="3.2" text-anchor="middle" fill="#222">54</text>
<circle cx="264.5" cy="288.2" r="2.5" fill="#fff" stroke="#333" stroke-width="0.55"/>
<text x="264.5" y="289.34999999999997" font-family="Liberation Sans" font-size="3.3" text-anchor="middle" font-weight="bold" fill="#111">46</text>
<line x1="264.5" y1="297.2" x2="264.5" y2="299.8" stroke="#000" stroke-width="0.9"/>
<path d="M262.3,299.8 L266.7,299.8 L264.5,302.6 Z" fill="#000" stroke="none" stroke-width="0" />
<circle cx="239.3" cy="268.2" r="2.2" fill="#fff" stroke="#333" stroke-width="0.55"/>
<text x="239.3" y="269.34999999999997" font-family="Liberation Sans" font-size="3.3" text-anchor="middle" font-weight="bold" fill="#111">43</text>
<line x1="239.3" y1="270.4" x2="239.3" y2="281" stroke="#888" stroke-width="0.5"/>
<circle cx="239.3" cy="286.2" r="2.2" fill="#fff" stroke="#333" stroke-width="0.55"/>
<text x="239.3" y="287.34999999999997" font-family="Liberation Sans" font-size="3.3" text-anchor="middle" font-weight="bold" fill="#111">45</text>
<line x1="239.3" y1="288.4" x2="239.3" y2="298.3" stroke="#888" stroke-width="0.5"/>
<line x1="361.3" y1="31" x2="361.3" y2="52" stroke="#000" stroke-width="1.3"/>
<line x1="361.3" y1="51" x2="361.3" y2="74" stroke="#000" stroke-width="1.0"/>
<circle cx="361.3" cy="51.8" r="1.0" fill="#000" stroke="none" stroke-width="0"/>
<text x="363.3" y="38.5" font-family="Liberation Sans" font-size="3.0" font-weight="bold" textLength="25" lengthAdjust="spacingAndGlyphs" fill="#111">TUPA ANTENNA</text>
<rect x="363.5" y="41.3" width="23.5" height="4.5" fill="#fff" stroke="#666" stroke-width="0.5" rx="2.25"/>
<line x1="365.7" y1="41.75" x2="384.8" y2="41.75" stroke="#000" stroke-width="1.05"/>
<line x1="365.7" y1="45.349999999999994" x2="384.8" y2="45.349999999999994" stroke="#000" stroke-width="1.05"/>
<text x="368.7" y="44.5" font-family="Liberation Sans" font-size="3.1" font-weight="bold" textLength="13.5" lengthAdjust="spacingAndGlyphs" stroke="#000" stroke-width="0.15" fill="#000">1FA-R0002</text>
<circle cx="356.0" cy="42.5" r="2.8" fill="#fff" stroke="#333" stroke-width="0.55"/>
<text x="356.0" y="43.65" font-family="Liberation Sans" font-size="3.3" text-anchor="middle" font-weight="bold" fill="#111">23</text>
<text x="363.6" y="50.6" font-family="Liberation Sans" font-size="2.6" font-weight="bold" textLength="15.5" lengthAdjust="spacingAndGlyphs" stroke="#000" stroke-width="0.2" fill="#000">7/8" LCF</text>
<text x="363.6" y="53.2" font-family="Liberation Sans" font-size="2.6" font-weight="bold" textLength="13.5" lengthAdjust="spacingAndGlyphs" stroke="#000" stroke-width="0.2" fill="#000">CABLE</text>
<line x1="357.90000000000003" y1="59.8" x2="364.7" y2="59.8" stroke="#000" stroke-width="1.6"/>
<circle cx="368.8" cy="59.699999999999996" r="2.2" fill="#fff" stroke="#333" stroke-width="0.55"/>
<line x1="361.3" y1="59.8" x2="366.6" y2="59.8" stroke="#666" stroke-width="0.6"/>
<text x="363.5" y="68" font-family="Liberation Sans" font-size="4.2" font-weight="bold" textLength="8.5" lengthAdjust="spacingAndGlyphs" font-style="italic" stroke="#000" stroke-width="0.2" fill="#000">1/2"</text>
<rect x="358.25" y="73.95" width="6.1" height="6.1" fill="#fff" stroke="#000" stroke-width="1"/>
<text x="361.3" y="78.2" font-family="Liberation Sans" font-size="3" text-anchor="middle" font-weight="bold" fill="#222">J</text>
<line x1="361.3" y1="80" x2="361.3" y2="83.6" stroke="#000" stroke-width="0.9"/>
<line x1="358.90000000000003" y1="83.6" x2="363.7" y2="83.6" stroke="#000" stroke-width="1"/>
<circle cx="369.6" cy="76.7" r="2.7" fill="#fff" stroke="#333" stroke-width="0.55"/>
<text x="369.6" y="77.85000000000001" font-family="Liberation Sans" font-size="3.3" text-anchor="middle" font-weight="bold" fill="#111">A2</text>
<path d="M394.3,31 A2.18,2.18 0 0 1 397.82,31.00 A2.18,2.18 0 0 1 401.33,31.00 A2.18,2.18 0 0 1 404.85,31.00 A2.18,2.18 0 0 1 408.37,31.00 A2.18,2.18 0 0 1 411.89,31.00 A2.18,2.18 0 0 1 415.40,31.00 A2.18,2.18 0 0 1 418.92,31.00 A2.18,2.18 0 0 1 422.44,31.00 A2.18,2.18 0 0 1 425.96,31.00 A2.18,2.18 0 0 1 429.47,31.00 A2.18,2.18 0 0 1 432.99,31.00 A2.18,2.18 0 0 1 436.51,31.00 A2.18,2.18 0 0 1 440.02,31.00 A2.18,2.18 0 0 1 443.54,31.00 A2.18,2.18 0 0 1 447.06,31.00 A2.18,2.18 0 0 1 450.58,31.00 A2.18,2.18 0 0 1 454.09,31.00 A2.18,2.18 0 0 1 457.61,31.00 A2.18,2.18 0 0 1 461.13,31.00 A2.18,2.18 0 0 1 464.64,31.00 A2.18,2.18 0 0 1 468.16,31.00 A2.18,2.18 0 0 1 471.68,31.00 A2.18,2.18 0 0 1 475.20,31.00 A2.18,2.18 0 0 1 478.71,31.00 A2.18,2.18 0 0 1 482.23,31.00 A2.18,2.18 0 0 1 485.75,31.00 A2.18,2.18 0 0 1 489.27,31.00 A2.18,2.18 0 0 1 492.78,31.00 A2.18,2.18 0 0 1 496.30,31.00 A2.14,2.14 0 0 1 496.30,34.45 A2.14,2.14 0 0 1 496.30,37.90 A2.14,2.14 0 0 1 496.30,41.35 A2.14,2.14 0 0 1 496.30,44.80 A2.14,2.14 0 0 1 496.30,48.25 A2.14,2.14 0 0 1 496.30,51.70 A2.14,2.14 0 0 1 496.30,55.15 A2.14,2.14 0 0 1 496.30,58.60 A2.14,2.14 0 0 1 496.30,62.05 A2.14,2.14 0 0 1 496.30,65.50 A2.14,2.14 0 0 1 496.30,68.95 A2.14,2.14 0 0 1 496.30,72.40 A2.14,2.14 0 0 1 496.30,75.85 A2.14,2.14 0 0 1 496.30,79.30 A2.14,2.14 0 0 1 496.30,82.75 A2.14,2.14 0 0 1 496.30,86.20 A2.14,2.14 0 0 1 496.30,89.65 A2.14,2.14 0 0 1 496.30,93.10 A2.14,2.14 0 0 1 496.30,96.55 A2.14,2.14 0 0 1 496.30,100.00 A2.14,2.14 0 0 1 496.30,103.45 A2.14,2.14 0 0 1 496.30,106.90 A2.14,2.14 0 0 1 496.30,110.35 A2.14,2.14 0 0 1 496.30,113.80 A2.14,2.14 0 0 1 496.30,117.25 A2.14,2.14 0 0 1 496.30,120.70 A2.14,2.14 0 0 1 496.30,124.15 A2.14,2.14 0 0 1 496.30,127.60 A2.14,2.14 0 0 1 496.30,131.05 A2.14,2.14 0 0 1 496.30,134.50 A2.14,2.14 0 0 1 496.30,137.95 A2.14,2.14 0 0 1 496.30,141.40 A2.14,2.14 0 0 1 496.30,144.85 A2.14,2.14 0 0 1 496.30,148.30 A2.12,2.12 0 0 1 492.88,148.30 A2.12,2.12 0 0 1 489.45,148.30 A2.12,2.12 0 0 1 486.03,148.30 A2.12,2.12 0 0 1 482.60,148.30 A2.12,2.12 0 0 1 479.18,148.30 A2.12,2.12 0 0 1 475.75,148.30 A2.12,2.12 0 0 1 472.32,148.30 A2.12,2.12 0 0 1 468.90,148.30 A2.12,2.12 0 0 1 465.48,148.30 A2.12,2.12 0 0 1 462.05,148.30 A2.12,2.12 0 0 1 458.62,148.30 A2.12,2.12 0 0 1 455.20,148.30 A2.12,2.12 0 0 1 451.77,148.30 A2.12,2.12 0 0 1 448.35,148.30 A2.12,2.12 0 0 1 444.93,148.30 A2.12,2.12 0 0 1 441.50,148.30 A2.17,2.17 0 0 1 441.50,144.80 A2.17,2.17 0 0 1 441.50,141.30 A2.17,2.17 0 0 1 441.50,137.80 A2.17,2.17 0 0 1 441.50,134.30 A2.17,2.17 0 0 1 441.50,130.80 A2.17,2.17 0 0 1 441.50,127.30 A2.17,2.17 0 0 1 441.50,123.80 A2.17,2.17 0 0 1 441.50,120.30 A2.17,2.17 0 0 1 441.50,116.80 A2.17,2.17 0 0 1 441.50,113.30 A2.17,2.17 0 0 1 441.50,109.80 A2.17,2.17 0 0 1 441.50,106.30 A2.17,2.17 0 0 1 441.50,102.80 A2.17,2.17 0 0 1 441.50,99.30 A2.17,2.17 0 0 1 441.50,95.80 A2.17,2.17 0 0 1 441.50,92.30 A2.17,2.17 0 0 1 441.50,88.80 A2.17,2.17 0 0 1 441.50,85.30 A2.17,2.17 0 0 1 441.50,81.80 A2.17,2.17 0 0 1 441.50,78.30 A2.17,2.17 0 0 1 441.50,74.80 A2.17,2.17 0 0 1 441.50,71.30 A2.17,2.17 0 0 1 441.50,67.80 A2.17,2.17 0 0 1 441.50,64.30 A2.17,2.17 0 0 1 441.50,60.80 A2.17,2.17 0 0 1 441.50,57.30 A2.17,2.17 0 0 1 441.50,53.80 A2.17,2.17 0 0 1 441.50,50.30 A2.17,2.17 0 0 1 441.50,46.80 A2.17,2.17 0 0 1 441.50,43.30 A2.17,2.17 0 0 1 441.50,39.80 A2.25,2.25 0 0 1 437.87,39.80 A2.25,2.25 0 0 1 434.24,39.80 A2.25,2.25 0 0 1 430.61,39.80 A2.25,2.25 0 0 1 426.98,39.80 A2.25,2.25 0 0 1 423.35,39.80 A2.25,2.25 0 0 1 419.72,39.80 A2.25,2.25 0 0 1 416.08,39.80 A2.25,2.25 0 0 1 412.45,39.80 A2.25,2.25 0 0 1 408.82,39.80 A2.25,2.25 0 0 1 405.19,39.80 A2.25,2.25 0 0 1 401.56,39.80 A2.25,2.25 0 0 1 397.93,39.80 A2.25,2.25 0 0 1 394.30,39.80 A1.82,1.82 0 0 1 394.30,36.87 A1.82,1.82 0 0 1 394.30,33.93 A1.82,1.82 0 0 1 394.30,31.00" fill="none" stroke="#777" stroke-width="0.55" />
<path d="M398.85,41 L403,48.3 L394.7,48.3 Z" fill="none" stroke="#999" stroke-width="0.5" />
<line x1="480" y1="77" x2="500" y2="77" stroke="#000" stroke-width="1" stroke-dasharray="7 1.2 1.6 1.2"/>
<line x1="474" y1="30" x2="474" y2="32" stroke="#000" stroke-width="1.9"/>
<line x1="474" y1="31.2" x2="474" y2="52.2" stroke="#000" stroke-width="1.9"/>
<line x1="474" y1="51.2" x2="474" y2="74" stroke="#000" stroke-width="1.0"/>
<circle cx="474" cy="52.0" r="1.0" fill="#000" stroke="none" stroke-width="0"/>
<text x="446.8" y="38.7" font-family="Liberation Sans" font-size="3.0" font-weight="bold" textLength="25" lengthAdjust="spacingAndGlyphs" fill="#111">TUPA ANTENNA</text>
<rect x="448.1" y="41.5" width="23.5" height="4.5" fill="#fff" stroke="#666" stroke-width="0.5" rx="2.25"/>
<line x1="450.3" y1="41.95" x2="469.40000000000003" y2="41.95" stroke="#000" stroke-width="1.05"/>
<line x1="450.3" y1="45.55" x2="469.40000000000003" y2="45.55" stroke="#000" stroke-width="1.05"/>
<text x="453.3" y="44.7" font-family="Liberation Sans" font-size="3.1" font-weight="bold" textLength="13.5" lengthAdjust="spacingAndGlyphs" stroke="#000" stroke-width="0.15" fill="#000">1FA-R0002</text>
<circle cx="478.9" cy="42" r="2.8" fill="#fff" stroke="#333" stroke-width="0.55"/>
<text x="478.9" y="43.15" font-family="Liberation Sans" font-size="3.3" text-anchor="middle" font-weight="bold" fill="#111">21</text>
<text x="455.5" y="50.8" font-family="Liberation Sans" font-size="2.6" font-weight="bold" textLength="17" lengthAdjust="spacingAndGlyphs" stroke="#000" stroke-width="0.2" fill="#000">7/8" LCF</text>
<text x="457.5" y="53.4" font-family="Liberation Sans" font-size="2.6" font-weight="bold" textLength="15" lengthAdjust="spacingAndGlyphs" stroke="#000" stroke-width="0.2" fill="#000">CABLE</text>
<line x1="470.6" y1="59.1" x2="477.4" y2="59.1" stroke="#000" stroke-width="1.6"/>
<circle cx="465.7" cy="59.0" r="2.2" fill="#fff" stroke="#333" stroke-width="0.55"/>
<line x1="474" y1="59.1" x2="467.9" y2="59.1" stroke="#666" stroke-width="0.6"/>
<text x="463" y="68.3" font-family="Liberation Sans" font-size="4.2" font-weight="bold" textLength="8.5" lengthAdjust="spacingAndGlyphs" font-style="italic" stroke="#000" stroke-width="0.2" fill="#000">1/2"</text>
<rect x="470.95" y="73.95" width="6.1" height="6.1" fill="#fff" stroke="#000" stroke-width="1"/>
<text x="474" y="78.2" font-family="Liberation Sans" font-size="3" text-anchor="middle" font-weight="bold" fill="#222">J</text>
<line x1="474" y1="80" x2="474" y2="83.6" stroke="#000" stroke-width="0.9"/>
<line x1="471.6" y1="83.6" x2="476.4" y2="83.6" stroke="#000" stroke-width="1"/>
<circle cx="465.7" cy="76.3" r="2.7" fill="#fff" stroke="#333" stroke-width="0.55"/>
<text x="465.7" y="77.45" font-family="Liberation Sans" font-size="3.3" text-anchor="middle" font-weight="bold" fill="#111">A2</text>
<rect x="478.5" y="72.1" width="17.2" height="4.3" fill="#fff" stroke="#000" stroke-width="0.9"/>
<rect x="480.0" y="73.3" width="14.2" height="1.9" fill="#333" stroke="none" stroke-width="0"/>
<circle cx="486.8" cy="67.2" r="3.0" fill="#fff" stroke="#333" stroke-width="0.55"/>
<text x="486.8" y="68.35000000000001" font-family="Liberation Sans" font-size="3.3" text-anchor="middle" font-weight="bold" fill="#111">A2</text>
<line x1="480" y1="134.6" x2="500" y2="134.6" stroke="#000" stroke-width="1" stroke-dasharray="7 1.2 1.6 1.2"/>
<line x1="474" y1="89.5" x2="474" y2="110.5" stroke="#000" stroke-width="1.9"/>
<line x1="474" y1="109.5" x2="474" y2="131.6" stroke="#000" stroke-width="1.0"/>
<circle cx="474" cy="110.3" r="1.0" fill="#000" stroke="none" stroke-width="0"/>
<text x="446.8" y="97.0" font-family="Liberation Sans" font-size="3.0" font-weight="bold" textLength="25" lengthAdjust="spacingAndGlyphs" fill="#111">TUPA ANTENNA</text>
<rect x="448.1" y="99.8" width="23.5" height="4.5" fill="#fff" stroke="#666" stroke-width="0.5" rx="2.25"/>
<line x1="450.3" y1="100.25" x2="469.40000000000003" y2="100.25" stroke="#000" stroke-width="1.05"/>
<line x1="450.3" y1="103.85" x2="469.40000000000003" y2="103.85" stroke="#000" stroke-width="1.05"/>
<text x="453.3" y="103.0" font-family="Liberation Sans" font-size="3.1" font-weight="bold" textLength="13.5" lengthAdjust="spacingAndGlyphs" stroke="#000" stroke-width="0.15" fill="#000">1FA-R0002</text>
<circle cx="478.9" cy="99.6" r="2.8" fill="#fff" stroke="#333" stroke-width="0.55"/>
<text x="478.9" y="100.75" font-family="Liberation Sans" font-size="3.3" text-anchor="middle" font-weight="bold" fill="#111">21</text>
<text x="455.5" y="109.1" font-family="Liberation Sans" font-size="2.6" font-weight="bold" textLength="17" lengthAdjust="spacingAndGlyphs" stroke="#000" stroke-width="0.2" fill="#000">7/8" LCF</text>
<text x="457.5" y="111.69999999999999" font-family="Liberation Sans" font-size="2.6" font-weight="bold" textLength="15" lengthAdjust="spacingAndGlyphs" stroke="#000" stroke-width="0.2" fill="#000">CABLE</text>
<line x1="470.6" y1="116.7" x2="477.4" y2="116.7" stroke="#000" stroke-width="1.6"/>
<circle cx="465.7" cy="116.60000000000001" r="2.2" fill="#fff" stroke="#333" stroke-width="0.55"/>
<line x1="474" y1="116.7" x2="467.9" y2="116.7" stroke="#666" stroke-width="0.6"/>
<text x="463" y="125.9" font-family="Liberation Sans" font-size="4.2" font-weight="bold" textLength="8.5" lengthAdjust="spacingAndGlyphs" font-style="italic" stroke="#000" stroke-width="0.2" fill="#000">1/2"</text>
<rect x="470.95" y="131.54999999999998" width="6.1" height="6.1" fill="#fff" stroke="#000" stroke-width="1"/>
<text x="474" y="135.79999999999998" font-family="Liberation Sans" font-size="3" text-anchor="middle" font-weight="bold" fill="#222">J</text>
<line x1="474" y1="137.6" x2="474" y2="141.2" stroke="#000" stroke-width="0.9"/>
<line x1="471.6" y1="141.2" x2="476.4" y2="141.2" stroke="#000" stroke-width="1"/>
<circle cx="465.7" cy="133.9" r="2.7" fill="#fff" stroke="#333" stroke-width="0.55"/>
<text x="465.7" y="135.05" font-family="Liberation Sans" font-size="3.3" text-anchor="middle" font-weight="bold" fill="#111">A2</text>
<rect x="478.5" y="129.7" width="17.2" height="4.3" fill="#fff" stroke="#000" stroke-width="0.9"/>
<rect x="480.0" y="130.89999999999998" width="14.2" height="1.9" fill="#333" stroke="none" stroke-width="0"/>
<circle cx="486.8" cy="124.80000000000001" r="3.0" fill="#fff" stroke="#333" stroke-width="0.55"/>
<text x="486.8" y="125.95000000000002" font-family="Liberation Sans" font-size="3.3" text-anchor="middle" font-weight="bold" fill="#111">A2</text>
<line x1="285.5" y1="277.2" x2="307" y2="277.2" stroke="#000" stroke-width="1" stroke-dasharray="7 1.2 1.6 1.2"/>
<line x1="329.6" y1="249" x2="329.6" y2="270" stroke="#000" stroke-width="1.9"/>
<line x1="329.6" y1="269" x2="329.6" y2="277.2" stroke="#000" stroke-width="1.0"/>
<circle cx="329.6" cy="269.8" r="1.0" fill="#000" stroke="none" stroke-width="0"/>
<text x="331.6" y="256.5" font-family="Liberation Sans" font-size="3.0" font-weight="bold" textLength="25" lengthAdjust="spacingAndGlyphs" fill="#111">TUPA ANTENNA</text>
<rect x="331.8" y="259.3" width="23.5" height="4.5" fill="#fff" stroke="#666" stroke-width="0.5" rx="2.25"/>
<line x1="334.0" y1="259.75" x2="353.1" y2="259.75" stroke="#000" stroke-width="1.05"/>
<line x1="334.0" y1="263.35" x2="353.1" y2="263.35" stroke="#000" stroke-width="1.05"/>
<text x="337.0" y="262.5" font-family="Liberation Sans" font-size="3.1" font-weight="bold" textLength="13.5" lengthAdjust="spacingAndGlyphs" stroke="#000" stroke-width="0.15" fill="#000">1FA-R0002</text>
<circle cx="324.3" cy="259.5" r="2.8" fill="#fff" stroke="#333" stroke-width="0.55"/>
<text x="324.3" y="260.65" font-family="Liberation Sans" font-size="3.3" text-anchor="middle" font-weight="bold" fill="#111">16</text>
<text x="331.90000000000003" y="268.6" font-family="Liberation Sans" font-size="2.6" font-weight="bold" textLength="11.5" lengthAdjust="spacingAndGlyphs" stroke="#000" stroke-width="0.2" fill="#000">7/8" LCF</text>
<text x="331.90000000000003" y="271.20000000000005" font-family="Liberation Sans" font-size="2.6" font-weight="bold" textLength="9.5" lengthAdjust="spacingAndGlyphs" stroke="#000" stroke-width="0.2" fill="#000">CABLE</text>
<text x="333.5" y="277" font-family="Liberation Sans" font-size="4.2" font-weight="bold" textLength="7.5" lengthAdjust="spacingAndGlyphs" font-style="italic" stroke="#000" stroke-width="0.2" fill="#000">1/2"</text>
<line x1="329.6" y1="277.2" x2="309.8" y2="277.2" stroke="#000" stroke-width="1.0" stroke-dasharray="7 1.2 1.6 1.2"/>
<rect x="306.75" y="274.15" width="6.1" height="6.1" fill="#fff" stroke="#000" stroke-width="1"/>
<text x="309.8" y="278.4" font-family="Liberation Sans" font-size="3" text-anchor="middle" font-weight="bold" fill="#222">J</text>
<line x1="309.8" y1="280.2" x2="309.8" y2="283.8" stroke="#000" stroke-width="0.9"/>
<line x1="307.40000000000003" y1="283.8" x2="312.2" y2="283.8" stroke="#000" stroke-width="1"/>
<circle cx="317.6" cy="281.8" r="2.7" fill="#fff" stroke="#333" stroke-width="0.55"/>
<text x="317.6" y="282.95" font-family="Liberation Sans" font-size="3.3" text-anchor="middle" font-weight="bold" fill="#111">A2</text>
<path d="M286.3,261 A2.26,2.26 0 0 1 289.95,261.00 A2.26,2.26 0 0 1 293.60,261.00 A2.26,2.26 0 0 1 297.25,261.00 A2.26,2.26 0 0 1 300.90,261.00 A2.26,2.26 0 0 1 304.55,261.00 A2.26,2.26 0 0 1 308.20,261.00 A2.36,2.36 0 0 1 308.20,264.80 A2.36,2.36 0 0 1 308.20,268.60 A2.36,2.36 0 0 1 308.20,272.40 A2.26,2.26 0 0 1 304.55,272.40 A2.26,2.26 0 0 1 300.90,272.40 A2.26,2.26 0 0 1 297.25,272.40 A2.26,2.26 0 0 1 293.60,272.40 A2.26,2.26 0 0 1 289.95,272.40 A2.26,2.26 0 0 1 286.30,272.40 A2.36,2.36 0 0 1 286.30,268.60 A2.36,2.36 0 0 1 286.30,264.80 A2.36,2.36 0 0 1 286.30,261.00" fill="none" stroke="#777" stroke-width="0.55" />
<rect x="287.4" y="272.4" width="18" height="4.4" fill="#fff" stroke="#000" stroke-width="0.9"/>
<rect x="288.9" y="273.59999999999997" width="15" height="2.0000000000000004" fill="#333" stroke="none" stroke-width="0"/>
<circle cx="295.7" cy="267.6" r="3.0" fill="#fff" stroke="#333" stroke-width="0.55"/>
<text x="295.7" y="268.75" font-family="Liberation Sans" font-size="3.3" text-anchor="middle" font-weight="bold" fill="#111">A2</text>
<path d="M301.5,278.7 L305,284.2 L298,284.2 Z" fill="none" stroke="#999" stroke-width="0.5" />
<circle cx="321.5" cy="271.7" r="2.2" fill="#fff" stroke="#333" stroke-width="0.55"/>
<line x1="323.7" y1="272.5" x2="329.6" y2="273.5" stroke="#666" stroke-width="0.6"/>
<line x1="373.4" y1="249" x2="373.4" y2="270" stroke="#000" stroke-width="1.9"/>
<line x1="373.4" y1="269" x2="373.4" y2="291.7" stroke="#000" stroke-width="1.0"/>
<circle cx="373.4" cy="269.8" r="1.0" fill="#000" stroke="none" stroke-width="0"/>
<text x="375.4" y="256.5" font-family="Liberation Sans" font-size="3.0" font-weight="bold" textLength="23.5" lengthAdjust="spacingAndGlyphs" fill="#111">DSC ANTENNA</text>
<rect x="375.59999999999997" y="259.3" width="22.0" height="4.5" fill="#fff" stroke="#666" stroke-width="0.5" rx="2.25"/>
<line x1="377.79999999999995" y1="259.75" x2="395.4" y2="259.75" stroke="#000" stroke-width="1.05"/>
<line x1="377.79999999999995" y1="263.35" x2="395.4" y2="263.35" stroke="#000" stroke-width="1.05"/>
<text x="380.79999999999995" y="262.5" font-family="Liberation Sans" font-size="3.1" font-weight="bold" textLength="12.0" lengthAdjust="spacingAndGlyphs" stroke="#000" stroke-width="0.15" fill="#000">1FA-R0002</text>
<circle cx="368.09999999999997" cy="259.5" r="2.8" fill="#fff" stroke="#333" stroke-width="0.55"/>
<text x="368.09999999999997" y="260.65" font-family="Liberation Sans" font-size="3.3" text-anchor="middle" font-weight="bold" fill="#111">17</text>
<text x="375.7" y="268.6" font-family="Liberation Sans" font-size="2.6" font-weight="bold" textLength="11.5" lengthAdjust="spacingAndGlyphs" stroke="#000" stroke-width="0.2" fill="#000">7/8" LCF</text>
<text x="375.7" y="271.20000000000005" font-family="Liberation Sans" font-size="2.6" font-weight="bold" textLength="9.5" lengthAdjust="spacingAndGlyphs" stroke="#000" stroke-width="0.2" fill="#000">CABLE</text>
<line x1="370.0" y1="277.2" x2="376.79999999999995" y2="277.2" stroke="#000" stroke-width="1.6"/>
<circle cx="380.9" cy="277.09999999999997" r="2.2" fill="#fff" stroke="#333" stroke-width="0.55"/>
<line x1="373.4" y1="277.2" x2="378.7" y2="277.2" stroke="#666" stroke-width="0.6"/>
<text x="375.8" y="285.5" font-family="Liberation Sans" font-size="4.2" font-weight="bold" textLength="8" lengthAdjust="spacingAndGlyphs" font-style="italic" stroke="#000" stroke-width="0.2" fill="#000">1/2"</text>
<rect x="370.34999999999997" y="291.65" width="6.1" height="6.1" fill="#fff" stroke="#000" stroke-width="1"/>
<text x="373.4" y="295.9" font-family="Liberation Sans" font-size="3" text-anchor="middle" font-weight="bold" fill="#222">J</text>
<line x1="373.4" y1="297.7" x2="373.4" y2="300.3" stroke="#000" stroke-width="0.9"/>
<path d="M371.2,300.3 L375.59999999999997,300.3 L373.4,303.1 Z" fill="#000" stroke="none" stroke-width="0" />
<circle cx="381.7" cy="294.8" r="2.7" fill="#fff" stroke="#333" stroke-width="0.55"/>
<text x="381.7" y="295.95" font-family="Liberation Sans" font-size="3.3" text-anchor="middle" font-weight="bold" fill="#111">A2</text>
<path d="M341,278.7 A2.08,2.08 0 0 1 344.36,278.70 A2.08,2.08 0 0 1 347.71,278.70 A2.08,2.08 0 0 1 351.07,278.70 A2.08,2.08 0 0 1 354.43,278.70 A2.08,2.08 0 0 1 357.79,278.70 A2.08,2.08 0 0 1 361.14,278.70 A2.08,2.08 0 0 1 364.50,278.70 A2.17,2.17 0 0 1 364.50,282.20 A2.17,2.17 0 0 1 364.50,285.70 A2.17,2.17 0 0 1 364.50,289.20 A2.08,2.08 0 0 1 361.14,289.20 A2.08,2.08 0 0 1 357.79,289.20 A2.08,2.08 0 0 1 354.43,289.20 A2.08,2.08 0 0 1 351.07,289.20 A2.08,2.08 0 0 1 347.71,289.20 A2.08,2.08 0 0 1 344.36,289.20 A2.08,2.08 0 0 1 341.00,289.20 A2.17,2.17 0 0 1 341.00,285.70 A2.17,2.17 0 0 1 341.00,282.20 A2.17,2.17 0 0 1 341.00,278.70" fill="none" stroke="#777" stroke-width="0.55" />
<rect x="344.2" y="289.2" width="17.5" height="4.4" fill="#fff" stroke="#000" stroke-width="0.9"/>
<rect x="345.7" y="290.4" width="14.5" height="2.0000000000000004" fill="#333" stroke="none" stroke-width="0"/>
<circle cx="352.4" cy="284.4" r="3.0" fill="#fff" stroke="#333" stroke-width="0.55"/>
<text x="352.4" y="285.54999999999995" font-family="Liberation Sans" font-size="3.3" text-anchor="middle" font-weight="bold" fill="#111">A2</text>
<path d="M357.95000000000005,295.1 L362.1,302.2 L353.8,302.2 Z" fill="none" stroke="#999" stroke-width="0.5" />
<line x1="463.5" y1="289.2" x2="520" y2="289.2" stroke="#000" stroke-width="1" stroke-dasharray="7 1.2 1.6 1.2"/>
<line x1="460.3" y1="244" x2="460.3" y2="265" stroke="#000" stroke-width="1.9"/>
<line x1="460.3" y1="264" x2="460.3" y2="286.0" stroke="#000" stroke-width="1.0"/>
<circle cx="460.3" cy="264.8" r="1.0" fill="#000" stroke="none" stroke-width="0"/>
<text x="433.1" y="251.5" font-family="Liberation Sans" font-size="3.0" font-weight="bold" textLength="25" lengthAdjust="spacingAndGlyphs" fill="#111">TUPA ANTENNA</text>
<rect x="434.40000000000003" y="254.3" width="23.5" height="4.5" fill="#fff" stroke="#666" stroke-width="0.5" rx="2.25"/>
<line x1="436.6" y1="254.75" x2="455.70000000000005" y2="254.75" stroke="#000" stroke-width="1.05"/>
<line x1="436.6" y1="258.35" x2="455.70000000000005" y2="258.35" stroke="#000" stroke-width="1.05"/>
<text x="439.6" y="257.5" font-family="Liberation Sans" font-size="3.1" font-weight="bold" textLength="13.5" lengthAdjust="spacingAndGlyphs" stroke="#000" stroke-width="0.15" fill="#000">1FA-R0002</text>
<circle cx="465.2" cy="254" r="2.8" fill="#fff" stroke="#333" stroke-width="0.55"/>
<text x="465.2" y="255.15" font-family="Liberation Sans" font-size="3.3" text-anchor="middle" font-weight="bold" fill="#111">22</text>
<text x="441.8" y="263.6" font-family="Liberation Sans" font-size="2.6" font-weight="bold" textLength="17" lengthAdjust="spacingAndGlyphs" stroke="#000" stroke-width="0.2" fill="#000">7/8" LCF</text>
<text x="443.8" y="266.20000000000005" font-family="Liberation Sans" font-size="2.6" font-weight="bold" textLength="15" lengthAdjust="spacingAndGlyphs" stroke="#000" stroke-width="0.2" fill="#000">CABLE</text>
<line x1="456.90000000000003" y1="271.1" x2="463.7" y2="271.1" stroke="#000" stroke-width="1.6"/>
<circle cx="452.0" cy="271.0" r="2.2" fill="#fff" stroke="#333" stroke-width="0.55"/>
<line x1="460.3" y1="271.1" x2="454.2" y2="271.1" stroke="#666" stroke-width="0.6"/>
<text x="449" y="280" font-family="Liberation Sans" font-size="4.2" font-weight="bold" textLength="8.5" lengthAdjust="spacingAndGlyphs" font-style="italic" stroke="#000" stroke-width="0.2" fill="#000">1/2"</text>
<rect x="457.25" y="285.95" width="6.1" height="6.1" fill="#fff" stroke="#000" stroke-width="1"/>
<text x="460.3" y="290.2" font-family="Liberation Sans" font-size="3" text-anchor="middle" font-weight="bold" fill="#222">J</text>
<line x1="460.3" y1="292.0" x2="460.3" y2="294.6" stroke="#000" stroke-width="0.9"/>
<path d="M458.1,294.6 L462.5,294.6 L460.3,297.40000000000003 Z" fill="#000" stroke="none" stroke-width="0" />
<circle cx="452" cy="288.5" r="2.7" fill="#fff" stroke="#333" stroke-width="0.55"/>
<text x="452" y="289.65" font-family="Liberation Sans" font-size="3.3" text-anchor="middle" font-weight="bold" fill="#111">A2</text>
<path d="M467.7,273.2 A2.00,2.00 0 0 1 470.93,273.20 A2.00,2.00 0 0 1 474.16,273.20 A2.00,2.00 0 0 1 477.39,273.20 A2.00,2.00 0 0 1 480.61,273.20 A2.00,2.00 0 0 1 483.84,273.20 A2.00,2.00 0 0 1 487.07,273.20 A2.00,2.00 0 0 1 490.30,273.20 A2.25,2.25 0 0 1 490.30,276.83 A2.25,2.25 0 0 1 490.30,280.47 A2.25,2.25 0 0 1 490.30,284.10 A2.00,2.00 0 0 1 487.07,284.10 A2.00,2.00 0 0 1 483.84,284.10 A2.00,2.00 0 0 1 480.61,284.10 A2.00,2.00 0 0 1 477.39,284.10 A2.00,2.00 0 0 1 474.16,284.10 A2.00,2.00 0 0 1 470.93,284.10 A2.00,2.00 0 0 1 467.70,284.10 A2.25,2.25 0 0 1 467.70,280.47 A2.25,2.25 0 0 1 467.70,276.83 A2.25,2.25 0 0 1 467.70,273.20" fill="none" stroke="#777" stroke-width="0.55" />
<rect x="470.3" y="284.1" width="18.4" height="4.6" fill="#fff" stroke="#000" stroke-width="0.9"/>
<rect x="471.8" y="285.3" width="15.399999999999999" height="2.1999999999999997" fill="#333" stroke="none" stroke-width="0"/>
<circle cx="478.6" cy="279.3" r="3.0" fill="#fff" stroke="#333" stroke-width="0.55"/>
<text x="478.6" y="280.45" font-family="Liberation Sans" font-size="3.3" text-anchor="middle" font-weight="bold" fill="#111">A2</text>
<path d="M484.475,290.3 L488.75,296.6 L480.2,296.6 Z" fill="none" stroke="#999" stroke-width="0.5" />
<line x1="414.7" y1="392.9" x2="520" y2="392.9" stroke="#000" stroke-width="1" stroke-dasharray="7 1.2 1.6 1.2"/>
<line x1="411.3" y1="347" x2="411.3" y2="368" stroke="#000" stroke-width="1.9"/>
<line x1="411.3" y1="367" x2="411.3" y2="389.9" stroke="#000" stroke-width="1.0"/>
<circle cx="411.3" cy="367.8" r="1.0" fill="#000" stroke="none" stroke-width="0"/>
<text x="385.6" y="354.5" font-family="Liberation Sans" font-size="3.0" font-weight="bold" textLength="23.5" lengthAdjust="spacingAndGlyphs" fill="#111">DSC ANTENNA</text>
<rect x="386.90000000000003" y="357.3" width="22.0" height="4.5" fill="#fff" stroke="#666" stroke-width="0.5" rx="2.25"/>
<line x1="389.1" y1="357.75" x2="406.70000000000005" y2="357.75" stroke="#000" stroke-width="1.05"/>
<line x1="389.1" y1="361.35" x2="406.70000000000005" y2="361.35" stroke="#000" stroke-width="1.05"/>
<text x="392.1" y="360.5" font-family="Liberation Sans" font-size="3.1" font-weight="bold" textLength="12.0" lengthAdjust="spacingAndGlyphs" stroke="#000" stroke-width="0.15" fill="#000">1FA-R0002</text>
<circle cx="416.2" cy="357.5" r="2.8" fill="#fff" stroke="#333" stroke-width="0.55"/>
<text x="416.2" y="358.65" font-family="Liberation Sans" font-size="3.3" text-anchor="middle" font-weight="bold" fill="#111">17</text>
<text x="398.3" y="366.6" font-family="Liberation Sans" font-size="2.6" font-weight="bold" textLength="11.5" lengthAdjust="spacingAndGlyphs" stroke="#000" stroke-width="0.2" fill="#000">7/8" LCF</text>
<text x="400.3" y="369.20000000000005" font-family="Liberation Sans" font-size="2.6" font-weight="bold" textLength="9.5" lengthAdjust="spacingAndGlyphs" stroke="#000" stroke-width="0.2" fill="#000">CABLE</text>
<line x1="407.90000000000003" y1="375.2" x2="414.7" y2="375.2" stroke="#000" stroke-width="1.6"/>
<circle cx="418.8" cy="375.09999999999997" r="2.2" fill="#fff" stroke="#333" stroke-width="0.55"/>
<line x1="411.3" y1="375.2" x2="416.6" y2="375.2" stroke="#666" stroke-width="0.6"/>
<text x="413" y="384" font-family="Liberation Sans" font-size="4.2" font-weight="bold" textLength="8.5" lengthAdjust="spacingAndGlyphs" font-style="italic" stroke="#000" stroke-width="0.2" fill="#000">1/2"</text>
<rect x="408.25" y="389.84999999999997" width="6.1" height="6.1" fill="#fff" stroke="#000" stroke-width="1"/>
<text x="411.3" y="394.09999999999997" font-family="Liberation Sans" font-size="3" text-anchor="middle" font-weight="bold" fill="#222">J</text>
<line x1="411.3" y1="395.9" x2="411.3" y2="399.5" stroke="#000" stroke-width="0.9"/>
<line x1="408.90000000000003" y1="399.5" x2="413.7" y2="399.5" stroke="#000" stroke-width="1"/>
<circle cx="403.1" cy="393.1" r="2.7" fill="#fff" stroke="#333" stroke-width="0.55"/>
<text x="403.1" y="394.25" font-family="Liberation Sans" font-size="3.3" text-anchor="middle" font-weight="bold" fill="#111">A2</text>
<path d="M424.5,376.7 A2.15,2.15 0 0 1 427.96,376.70 A2.15,2.15 0 0 1 431.43,376.70 A2.15,2.15 0 0 1 434.89,376.70 A2.15,2.15 0 0 1 438.36,376.70 A2.15,2.15 0 0 1 441.82,376.70 A2.15,2.15 0 0 1 445.29,376.70 A2.15,2.15 0 0 1 448.75,376.70 A2.17,2.17 0 0 1 448.75,380.20 A2.17,2.17 0 0 1 448.75,383.70 A2.17,2.17 0 0 1 448.75,387.20 A2.15,2.15 0 0 1 445.29,387.20 A2.15,2.15 0 0 1 441.82,387.20 A2.15,2.15 0 0 1 438.36,387.20 A2.15,2.15 0 0 1 434.89,387.20 A2.15,2.15 0 0 1 431.43,387.20 A2.15,2.15 0 0 1 427.96,387.20 A2.15,2.15 0 0 1 424.50,387.20 A2.17,2.17 0 0 1 424.50,383.70 A2.17,2.17 0 0 1 424.50,380.20 A2.17,2.17 0 0 1 424.50,376.70" fill="none" stroke="#777" stroke-width="0.55" />
<rect x="427.3" y="387.2" width="17.5" height="4.4" fill="#fff" stroke="#000" stroke-width="0.9"/>
<rect x="428.8" y="388.4" width="14.5" height="2.0000000000000004" fill="#333" stroke="none" stroke-width="0"/>
<circle cx="435.5" cy="382.4" r="3.0" fill="#fff" stroke="#333" stroke-width="0.55"/>
<text x="435.5" y="383.54999999999995" font-family="Liberation Sans" font-size="3.3" text-anchor="middle" font-weight="bold" fill="#111">A2</text>
<path d="M441.70000000000005,393.6 L445.6,400.2 L437.8,400.2 Z" fill="none" stroke="#999" stroke-width="0.5" />
<line x1="478.4" y1="375.2" x2="520" y2="375.2" stroke="#000" stroke-width="1" stroke-dasharray="7 1.2 1.6 1.2"/>
<line x1="454.7" y1="347" x2="454.7" y2="368" stroke="#000" stroke-width="1.9"/>
<line x1="454.7" y1="367" x2="454.7" y2="375.2" stroke="#000" stroke-width="1.0"/>
<circle cx="454.7" cy="367.8" r="1.0" fill="#000" stroke="none" stroke-width="0"/>
<text x="427.5" y="354.5" font-family="Liberation Sans" font-size="3.0" font-weight="bold" textLength="25" lengthAdjust="spacingAndGlyphs" fill="#111">TUPA ANTENNA</text>
<rect x="428.8" y="357.3" width="23.5" height="4.5" fill="#fff" stroke="#666" stroke-width="0.5" rx="2.25"/>
<line x1="431.0" y1="357.75" x2="450.1" y2="357.75" stroke="#000" stroke-width="1.05"/>
<line x1="431.0" y1="361.35" x2="450.1" y2="361.35" stroke="#000" stroke-width="1.05"/>
<text x="434.0" y="360.5" font-family="Liberation Sans" font-size="3.1" font-weight="bold" textLength="13.5" lengthAdjust="spacingAndGlyphs" stroke="#000" stroke-width="0.15" fill="#000">1FA-R0002</text>
<circle cx="459.59999999999997" cy="357.5" r="2.8" fill="#fff" stroke="#333" stroke-width="0.55"/>
<text x="459.59999999999997" y="358.65" font-family="Liberation Sans" font-size="3.3" text-anchor="middle" font-weight="bold" fill="#111">16</text>
<text x="441.7" y="366.6" font-family="Liberation Sans" font-size="2.6" font-weight="bold" textLength="11.5" lengthAdjust="spacingAndGlyphs" stroke="#000" stroke-width="0.2" fill="#000">7/8" LCF</text>
<text x="443.7" y="369.20000000000005" font-family="Liberation Sans" font-size="2.6" font-weight="bold" textLength="9.5" lengthAdjust="spacingAndGlyphs" stroke="#000" stroke-width="0.2" fill="#000">CABLE</text>
<text x="443" y="375" font-family="Liberation Sans" font-size="4.2" font-weight="bold" textLength="8.5" lengthAdjust="spacingAndGlyphs" font-style="italic" stroke="#000" stroke-width="0.2" fill="#000">1/2"</text>
<line x1="454.7" y1="375.2" x2="475.3" y2="375.2" stroke="#000" stroke-width="1.0" stroke-dasharray="7 1.2 1.6 1.2"/>
<rect x="472.25" y="372.15" width="6.1" height="6.1" fill="#fff" stroke="#000" stroke-width="1"/>
<text x="475.3" y="376.4" font-family="Liberation Sans" font-size="3" text-anchor="middle" font-weight="bold" fill="#222">J</text>
<line x1="475.3" y1="378.2" x2="475.3" y2="381.8" stroke="#000" stroke-width="0.9"/>
<line x1="472.90000000000003" y1="381.8" x2="477.7" y2="381.8" stroke="#000" stroke-width="1"/>
<circle cx="466.7" cy="380.3" r="2.7" fill="#fff" stroke="#333" stroke-width="0.55"/>
<text x="466.7" y="381.45" font-family="Liberation Sans" font-size="3.3" text-anchor="middle" font-weight="bold" fill="#111">A2</text>
<path d="M476,359.5 A2.27,2.27 0 0 1 479.67,359.50 A2.27,2.27 0 0 1 483.33,359.50 A2.27,2.27 0 0 1 487.00,359.50 A2.27,2.27 0 0 1 490.67,359.50 A2.27,2.27 0 0 1 494.33,359.50 A2.27,2.27 0 0 1 498.00,359.50 A2.21,2.21 0 0 1 498.00,363.07 A2.21,2.21 0 0 1 498.00,366.63 A2.21,2.21 0 0 1 498.00,370.20 A2.27,2.27 0 0 1 494.33,370.20 A2.27,2.27 0 0 1 490.67,370.20 A2.27,2.27 0 0 1 487.00,370.20 A2.27,2.27 0 0 1 483.33,370.20 A2.27,2.27 0 0 1 479.67,370.20 A2.27,2.27 0 0 1 476.00,370.20 A2.21,2.21 0 0 1 476.00,366.63 A2.21,2.21 0 0 1 476.00,363.07 A2.21,2.21 0 0 1 476.00,359.50" fill="none" stroke="#777" stroke-width="0.55" />
<rect x="479.7" y="370.2" width="16.7" height="4.5" fill="#fff" stroke="#000" stroke-width="0.9"/>
<rect x="481.2" y="371.4" width="13.7" height="2.1" fill="#333" stroke="none" stroke-width="0"/>
<circle cx="487.8" cy="365.7" r="3.0" fill="#fff" stroke="#333" stroke-width="0.55"/>
<text x="487.8" y="366.84999999999997" font-family="Liberation Sans" font-size="3.3" text-anchor="middle" font-weight="bold" fill="#111">A2</text>
<path d="M493.15,376.25 L496.9,382.2 L489.4,382.2 Z" fill="none" stroke="#999" stroke-width="0.5" />
<circle cx="462.8" cy="369.7" r="2.3" fill="#fff" stroke="#333" stroke-width="0.55"/>
<line x1="455" y1="371" x2="460.6" y2="370.2" stroke="#666" stroke-width="0.6"/>
<rect x="574.6" y="62.2" width="53.6" height="27.0" fill="#fff" stroke="#000" stroke-width="1.15"/>
<line x1="574.6" y1="67.8" x2="628.2" y2="67.8" stroke="#000" stroke-width="0.9"/>
<text x="587.55" y="66.0" font-family="Liberation Sans" font-size="2.8" font-weight="bold" textLength="27.7" lengthAdjust="spacingAndGlyphs" fill="#111">VHF BASE STATION</text>
<circle cx="625.2" cy="57.900000000000006" r="2.6" fill="#fff" stroke="#333" stroke-width="0.55"/>
<text x="625.2" y="59.050000000000004" font-family="Liberation Sans" font-size="3.3" text-anchor="middle" font-weight="bold" fill="#111">20</text>
<rect x="574.8000000000001" y="56.800000000000004" width="22.8" height="4.9" fill="#fff" stroke="#666" stroke-width="0.5" rx="2.45"/>
<line x1="577.0000000000001" y1="57.25000000000001" x2="595.4" y2="57.25000000000001" stroke="#000" stroke-width="1.05"/>
<line x1="577.0000000000001" y1="61.25" x2="595.4" y2="61.25" stroke="#000" stroke-width="1.05"/>
<text x="580.0000000000001" y="60.400000000000006" font-family="Liberation Sans" font-size="3.1" font-weight="bold" textLength="12.8" lengthAdjust="spacingAndGlyphs" stroke="#000" stroke-width="0.15" fill="#000">1FA-R0002</text>
<rect x="574.6" y="123.7" width="53.6" height="28.0" fill="#fff" stroke="#000" stroke-width="1.15"/>
<line x1="574.6" y1="129.3" x2="628.2" y2="129.3" stroke="#000" stroke-width="0.9"/>
<text x="587.55" y="127.50000000000001" font-family="Liberation Sans" font-size="2.8" font-weight="bold" textLength="27.7" lengthAdjust="spacingAndGlyphs" fill="#111">VHF BASE STATION</text>
<circle cx="625.2" cy="119.4" r="2.6" fill="#fff" stroke="#333" stroke-width="0.55"/>
<text x="625.2" y="120.55000000000001" font-family="Liberation Sans" font-size="3.3" text-anchor="middle" font-weight="bold" fill="#111">20</text>
<rect x="574.8000000000001" y="118.3" width="22.8" height="4.9" fill="#fff" stroke="#666" stroke-width="0.5" rx="2.45"/>
<line x1="577.0000000000001" y1="118.75" x2="595.4" y2="118.75" stroke="#000" stroke-width="1.05"/>
<line x1="577.0000000000001" y1="122.75" x2="595.4" y2="122.75" stroke="#000" stroke-width="1.05"/>
<text x="580.0000000000001" y="121.9" font-family="Liberation Sans" font-size="3.1" font-weight="bold" textLength="12.8" lengthAdjust="spacingAndGlyphs" stroke="#000" stroke-width="0.15" fill="#000">1FA-R0002</text>
<rect x="574.6" y="173.6" width="53.6" height="28.0" fill="#fff" stroke="#000" stroke-width="1.15"/>
<line x1="574.6" y1="179.2" x2="628.2" y2="179.2" stroke="#000" stroke-width="0.9"/>
<text x="591.15" y="177.39999999999998" font-family="Liberation Sans" font-size="2.8" font-weight="bold" textLength="20.5" lengthAdjust="spacingAndGlyphs" fill="#111">POWER SUPPLY</text>
<circle cx="625.2" cy="169.29999999999998" r="2.6" fill="#fff" stroke="#333" stroke-width="0.55"/>
<text x="625.2" y="170.45" font-family="Liberation Sans" font-size="3.3" text-anchor="middle" font-weight="bold" fill="#111">15</text>
<rect x="574.8000000000001" y="168.2" width="22.8" height="4.9" fill="#fff" stroke="#666" stroke-width="0.5" rx="2.45"/>
<line x1="577.0000000000001" y1="168.64999999999998" x2="595.4" y2="168.64999999999998" stroke="#000" stroke-width="1.05"/>
<line x1="577.0000000000001" y1="172.65" x2="595.4" y2="172.65" stroke="#000" stroke-width="1.05"/>
<text x="580.0000000000001" y="171.79999999999998" font-family="Liberation Sans" font-size="3.1" font-weight="bold" textLength="12.8" lengthAdjust="spacingAndGlyphs" stroke="#000" stroke-width="0.15" fill="#000">1FA-R0002</text>
<rect x="574.6" y="214.8" width="53.6" height="28.0" fill="#fff" stroke="#000" stroke-width="1.15"/>
<line x1="574.6" y1="220.4" x2="628.2" y2="220.4" stroke="#000" stroke-width="0.9"/>
<text x="591.15" y="218.6" font-family="Liberation Sans" font-size="2.8" font-weight="bold" textLength="20.5" lengthAdjust="spacingAndGlyphs" fill="#111">POWER SUPPLY</text>
<circle cx="625.2" cy="210.5" r="2.6" fill="#fff" stroke="#333" stroke-width="0.55"/>
<text x="625.2" y="211.65" font-family="Liberation Sans" font-size="3.3" text-anchor="middle" font-weight="bold" fill="#111">15</text>
<rect x="574.8000000000001" y="209.4" width="22.8" height="4.9" fill="#fff" stroke="#666" stroke-width="0.5" rx="2.45"/>
<line x1="577.0000000000001" y1="209.85" x2="595.4" y2="209.85" stroke="#000" stroke-width="1.05"/>
<line x1="577.0000000000001" y1="213.85000000000002" x2="595.4" y2="213.85000000000002" stroke="#000" stroke-width="1.05"/>
<text x="580.0000000000001" y="213.0" font-family="Liberation Sans" font-size="3.1" font-weight="bold" textLength="12.8" lengthAdjust="spacingAndGlyphs" stroke="#000" stroke-width="0.15" fill="#000">1FA-R0002</text>
<polyline points="620,84.2 719,84.2 719,224.2 620,224.2" fill="none" stroke="#000" stroke-width="1"/>
<line x1="620" y1="86.2" x2="631" y2="86.2" stroke="#000" stroke-width="0.7"/>
<polyline points="620,146.3 709.8,146.3 709.8,183 620,183" fill="none" stroke="#000" stroke-width="1"/>
<line x1="620" y1="148.4" x2="631" y2="148.4" stroke="#000" stroke-width="0.7"/>
<path d="M622,185.4 L631,185.4 L633.5,183" fill="none" stroke="#000" stroke-width="0.7" />
<path d="M622,226.6 L631,226.6 L633.5,224.2" fill="none" stroke="#000" stroke-width="0.7" />
<circle cx="701.5" cy="169.6" r="2.6" fill="#fff" stroke="#333" stroke-width="0.55"/>
<text x="701.5" y="170.75" font-family="Liberation Sans" font-size="3.3" text-anchor="middle" font-weight="bold" fill="#111">44</text>
<circle cx="726.5" cy="169.6" r="2.6" fill="#fff" stroke="#333" stroke-width="0.55"/>
<text x="726.5" y="170.75" font-family="Liberation Sans" font-size="3.3" text-anchor="middle" font-weight="bold" fill="#111">44</text>
<line x1="704.3" y1="169.6" x2="723.8" y2="169.6" stroke="#000" stroke-width="1" stroke-dasharray="3.5 2.2"/>
<path d="M617,68.2 A2.07,2.07 0 0 1 620.33,68.20 A2.07,2.07 0 0 1 623.67,68.20 A2.07,2.07 0 0 1 627.00,68.20 A2.07,2.07 0 0 1 630.33,68.20 A2.07,2.07 0 0 1 633.67,68.20 A2.07,2.07 0 0 1 637.00,68.20 A2.07,2.07 0 0 1 640.33,68.20 A2.07,2.07 0 0 1 643.67,68.20 A2.07,2.07 0 0 1 647.00,68.20 A2.07,2.07 0 0 1 650.33,68.20 A2.07,2.07 0 0 1 653.67,68.20 A2.07,2.07 0 0 1 657.00,68.20 A2.07,2.07 0 0 1 660.33,68.20 A2.07,2.07 0 0 1 663.67,68.20 A2.07,2.07 0 0 1 667.00,68.20 A2.27,2.27 0 0 1 667.00,71.87 A2.27,2.27 0 0 1 667.00,75.53 A2.27,2.27 0 0 1 667.00,79.20 A2.07,2.07 0 0 1 663.67,79.20 A2.07,2.07 0 0 1 660.33,79.20 A2.07,2.07 0 0 1 657.00,79.20 A2.07,2.07 0 0 1 653.67,79.20 A2.07,2.07 0 0 1 650.33,79.20 A2.07,2.07 0 0 1 647.00,79.20 A2.07,2.07 0 0 1 643.67,79.20 A2.07,2.07 0 0 1 640.33,79.20 A2.07,2.07 0 0 1 637.00,79.20 A2.07,2.07 0 0 1 633.67,79.20 A2.07,2.07 0 0 1 630.33,79.20 A2.07,2.07 0 0 1 627.00,79.20 A2.07,2.07 0 0 1 623.67,79.20 A2.07,2.07 0 0 1 620.33,79.20 A2.07,2.07 0 0 1 617.00,79.20 A2.27,2.27 0 0 1 617.00,75.53 A2.27,2.27 0 0 1 617.00,71.87 A2.27,2.27 0 0 1 617.00,68.20" fill="none" stroke="#777" stroke-width="0.55" />
<circle cx="623" cy="74.4" r="5" fill="none" stroke="#777" stroke-width="0.5" stroke-dasharray="1.5 1"/>
<rect x="620.3" y="71.7" width="5.4" height="5.4" fill="#000" stroke="none" stroke-width="0"/>
<rect x="621.9" y="73.2" width="2.2" height="2.4" fill="#fff" stroke="none" stroke-width="0"/>
<rect x="629.3" y="72.10000000000001" width="3" height="4.6" fill="#000" stroke="none" stroke-width="0"/>
<path d="M632.3,71.60000000000001 L635.5,71.60000000000001 L637.5,74.4 L635.5,77.2 L632.3,77.2 Z" fill="#000" stroke="none" stroke-width="0" />
<line x1="637" y1="74.4" x2="651.3" y2="74.4" stroke="#000" stroke-width="0.9" stroke-dasharray="2.5 1 1 1"/>
<rect x="651.3" y="71.4" width="14.5" height="6" fill="#fff" stroke="#000" stroke-width="0.9"/>
<text x="658.55" y="75.5" font-family="Liberation Sans" font-size="2.9" text-anchor="middle" font-weight="bold" fill="#111">EXT MIC</text>
<path d="M669.9,62.800000000000004 L674,69.60000000000001 L665.8,69.60000000000001 Z" fill="none" stroke="#999" stroke-width="0.5" />
<rect x="616.3000000000001" y="82.0" width="6.6" height="5.4" fill="#000" stroke="none" stroke-width="0"/>
<rect x="617.4" y="82.9" width="1.6" height="1.4" fill="#fff" stroke="none" stroke-width="0"/>
<rect x="617.4" y="85.10000000000001" width="1.6" height="1.4" fill="#fff" stroke="none" stroke-width="0"/>
<rect x="620.2" y="82.9" width="1.6" height="1.4" fill="#fff" stroke="none" stroke-width="0"/>
<rect x="620.2" y="85.10000000000001" width="1.6" height="1.4" fill="#fff" stroke="none" stroke-width="0"/>
<path d="M578.2,73.89999999999999 L580.0,76.8 L578.2,79.7 L576.4000000000001,76.8 Z" fill="#fff" stroke="#222" stroke-width="0.55" />
<text x="581.3" y="77.7" font-family="Liberation Sans" font-size="2.1" font-weight="bold" fill="#333">ANT</text>
<rect x="569.5" y="75.1" width="4.2" height="3.8" fill="#fff" stroke="#000" stroke-width="0.9"/>
<line x1="571.6" y1="75.1" x2="571.6" y2="78.9" stroke="#000" stroke-width="0.6"/>
<rect x="566.1" y="74.8" width="3.4" height="4.4" fill="#000" stroke="none" stroke-width="0"/>
<line x1="563.7" y1="77.0" x2="566.1" y2="77.0" stroke="#000" stroke-width="1.6"/>
<path d="M617,129.20000000000002 A2.07,2.07 0 0 1 620.33,129.20 A2.07,2.07 0 0 1 623.67,129.20 A2.07,2.07 0 0 1 627.00,129.20 A2.07,2.07 0 0 1 630.33,129.20 A2.07,2.07 0 0 1 633.67,129.20 A2.07,2.07 0 0 1 637.00,129.20 A2.07,2.07 0 0 1 640.33,129.20 A2.07,2.07 0 0 1 643.67,129.20 A2.07,2.07 0 0 1 647.00,129.20 A2.07,2.07 0 0 1 650.33,129.20 A2.07,2.07 0 0 1 653.67,129.20 A2.07,2.07 0 0 1 657.00,129.20 A2.07,2.07 0 0 1 660.33,129.20 A2.07,2.07 0 0 1 663.67,129.20 A2.07,2.07 0 0 1 667.00,129.20 A2.27,2.27 0 0 1 667.00,132.87 A2.27,2.27 0 0 1 667.00,136.53 A2.27,2.27 0 0 1 667.00,140.20 A2.07,2.07 0 0 1 663.67,140.20 A2.07,2.07 0 0 1 660.33,140.20 A2.07,2.07 0 0 1 657.00,140.20 A2.07,2.07 0 0 1 653.67,140.20 A2.07,2.07 0 0 1 650.33,140.20 A2.07,2.07 0 0 1 647.00,140.20 A2.07,2.07 0 0 1 643.67,140.20 A2.07,2.07 0 0 1 640.33,140.20 A2.07,2.07 0 0 1 637.00,140.20 A2.07,2.07 0 0 1 633.67,140.20 A2.07,2.07 0 0 1 630.33,140.20 A2.07,2.07 0 0 1 627.00,140.20 A2.07,2.07 0 0 1 623.67,140.20 A2.07,2.07 0 0 1 620.33,140.20 A2.07,2.07 0 0 1 617.00,140.20 A2.27,2.27 0 0 1 617.00,136.53 A2.27,2.27 0 0 1 617.00,132.87 A2.27,2.27 0 0 1 617.00,129.20" fill="none" stroke="#777" stroke-width="0.55" />
<circle cx="623" cy="135.4" r="5" fill="none" stroke="#777" stroke-width="0.5" stroke-dasharray="1.5 1"/>
<rect x="620.3" y="132.70000000000002" width="5.4" height="5.4" fill="#000" stroke="none" stroke-width="0"/>
<rect x="621.9" y="134.20000000000002" width="2.2" height="2.4" fill="#fff" stroke="none" stroke-width="0"/>
<rect x="629.3" y="133.1" width="3" height="4.6" fill="#000" stroke="none" stroke-width="0"/>
<path d="M632.3,132.6 L635.5,132.6 L637.5,135.4 L635.5,138.20000000000002 L632.3,138.20000000000002 Z" fill="#000" stroke="none" stroke-width="0" />
<line x1="637" y1="135.4" x2="651.3" y2="135.4" stroke="#000" stroke-width="0.9" stroke-dasharray="2.5 1 1 1"/>
<rect x="651.3" y="132.4" width="14.5" height="6" fill="#fff" stroke="#000" stroke-width="0.9"/>
<text x="658.55" y="136.5" font-family="Liberation Sans" font-size="2.9" text-anchor="middle" font-weight="bold" fill="#111">EXT MIC</text>
<path d="M669.9,123.80000000000001 L674,130.6 L665.8,130.6 Z" fill="none" stroke="#999" stroke-width="0.5" />
<rect x="616.3000000000001" y="143.9" width="6.6" height="5.4" fill="#000" stroke="none" stroke-width="0"/>
<rect x="617.4" y="144.79999999999998" width="1.6" height="1.4" fill="#fff" stroke="none" stroke-width="0"/>
<rect x="617.4" y="147.0" width="1.6" height="1.4" fill="#fff" stroke="none" stroke-width="0"/>
<rect x="620.2" y="144.79999999999998" width="1.6" height="1.4" fill="#fff" stroke="none" stroke-width="0"/>
<rect x="620.2" y="147.0" width="1.6" height="1.4" fill="#fff" stroke="none" stroke-width="0"/>
<path d="M578.2,131.29999999999998 L580.0,134.2 L578.2,137.1 L576.4000000000001,134.2 Z" fill="#fff" stroke="#222" stroke-width="0.55" />
<text x="581.3" y="135.1" font-family="Liberation Sans" font-size="2.1" font-weight="bold" fill="#333">ANT</text>
<rect x="569.5" y="132.5" width="4.2" height="3.8" fill="#fff" stroke="#000" stroke-width="0.9"/>
<line x1="571.6" y1="132.5" x2="571.6" y2="136.3" stroke="#000" stroke-width="0.6"/>
<rect x="566.1" y="132.20000000000002" width="3.4" height="4.4" fill="#000" stroke="none" stroke-width="0"/>
<line x1="563.7" y1="134.4" x2="566.1" y2="134.4" stroke="#000" stroke-width="1.6"/>
<line x1="496" y1="77.2" x2="515" y2="77.2" stroke="#000" stroke-width="1" stroke-dasharray="7 1.2 1.6 1.2"/>
<line x1="527" y1="77.2" x2="565" y2="77.2" stroke="#000" stroke-width="1" stroke-dasharray="7 1.2 1.6 1.2"/>
<rect x="515.3" y="74.5" width="11.4" height="5.4" fill="#fff" stroke="#000" stroke-width="0.9"/>
<text x="521" y="78.5" font-family="Liberation Sans" font-size="3.2" text-anchor="middle" fill="#222">54</text>
<circle cx="521" cy="70.9" r="2.5" fill="#fff" stroke="#333" stroke-width="0.55"/>
<text x="521" y="72.05000000000001" font-family="Liberation Sans" font-size="3.3" text-anchor="middle" font-weight="bold" fill="#111">40</text>
<line x1="521" y1="79.9" x2="521" y2="82.5" stroke="#000" stroke-width="0.9"/>
<path d="M518.8,82.5 L523.2,82.5 L521,85.3 Z" fill="#000" stroke="none" stroke-width="0" />
<circle cx="544.9" cy="68.5" r="2.4" fill="#fff" stroke="#333" stroke-width="0.55"/>
<text x="544.9" y="69.65" font-family="Liberation Sans" font-size="3.3" text-anchor="middle" font-weight="bold" fill="#111">41</text>
<line x1="544.9" y1="70.9" x2="544.9" y2="81.0" stroke="#888" stroke-width="0.5"/>
<text x="507.3" y="79.89999999999999" font-family="Liberation Sans" font-size="2.7" font-weight="bold" textLength="6.5" lengthAdjust="spacingAndGlyphs" stroke="#000" stroke-width="0.3" fill="#000">RG-214</text>
<text x="528.5" y="79.89999999999999" font-family="Liberation Sans" font-size="2.7" font-weight="bold" textLength="7" lengthAdjust="spacingAndGlyphs" stroke="#000" stroke-width="0.3" fill="#000">RG-214</text>
<text x="553" y="79.89999999999999" font-family="Liberation Sans" font-size="2.7" font-weight="bold" textLength="8" lengthAdjust="spacingAndGlyphs" stroke="#000" stroke-width="0.3" fill="#000">RG-214</text>
<line x1="496" y1="134.6" x2="515" y2="134.6" stroke="#000" stroke-width="1" stroke-dasharray="7 1.2 1.6 1.2"/>
<line x1="527" y1="134.6" x2="565" y2="134.6" stroke="#000" stroke-width="1" stroke-dasharray="7 1.2 1.6 1.2"/>
<rect x="515.3" y="131.9" width="11.4" height="5.4" fill="#fff" stroke="#000" stroke-width="0.9"/>
<text x="521" y="135.9" font-family="Liberation Sans" font-size="3.2" text-anchor="middle" fill="#222">54</text>
<circle cx="521" cy="128.29999999999998" r="2.5" fill="#fff" stroke="#333" stroke-width="0.55"/>
<text x="521" y="129.45" font-family="Liberation Sans" font-size="3.3" text-anchor="middle" font-weight="bold" fill="#111">40</text>
<line x1="521" y1="137.29999999999998" x2="521" y2="139.89999999999998" stroke="#000" stroke-width="0.9"/>
<path d="M518.8,139.89999999999998 L523.2,139.89999999999998 L521,142.7 Z" fill="#000" stroke="none" stroke-width="0" />
<circle cx="544.9" cy="125.89999999999999" r="2.4" fill="#fff" stroke="#333" stroke-width="0.55"/>
<text x="544.9" y="127.05" font-family="Liberation Sans" font-size="3.3" text-anchor="middle" font-weight="bold" fill="#111">41</text>
<line x1="544.9" y1="128.29999999999998" x2="544.9" y2="138.4" stroke="#888" stroke-width="0.5"/>
<text x="507.3" y="137.29999999999998" font-family="Liberation Sans" font-size="2.7" font-weight="bold" textLength="6.5" lengthAdjust="spacingAndGlyphs" stroke="#000" stroke-width="0.3" fill="#000">RG-214</text>
<text x="528.5" y="137.29999999999998" font-family="Liberation Sans" font-size="2.7" font-weight="bold" textLength="7" lengthAdjust="spacingAndGlyphs" stroke="#000" stroke-width="0.3" fill="#000">RG-214</text>
<text x="553" y="137.29999999999998" font-family="Liberation Sans" font-size="2.7" font-weight="bold" textLength="8" lengthAdjust="spacingAndGlyphs" stroke="#000" stroke-width="0.3" fill="#000">RG-214</text>
<path d="M534.5,142 A2.11,2.11 0 0 1 537.90,142.00 A2.11,2.11 0 0 1 541.30,142.00 A2.11,2.11 0 0 1 544.70,142.00 A2.11,2.11 0 0 1 548.10,142.00 A2.11,2.11 0 0 1 551.50,142.00 A2.11,2.11 0 0 1 554.90,142.00 A2.11,2.11 0 0 1 558.30,142.00 A2.11,2.11 0 0 1 561.70,142.00 A2.11,2.11 0 0 1 565.10,142.00 A2.11,2.11 0 0 1 568.50,142.00 A2.11,2.11 0 0 1 571.90,142.00 A2.11,2.11 0 0 1 575.30,142.00 A2.11,2.11 0 0 1 578.70,142.00 A2.11,2.11 0 0 1 582.10,142.00 A2.11,2.11 0 0 1 585.50,142.00 A2.19,2.19 0 0 1 585.50,145.53 A2.19,2.19 0 0 1 585.50,149.07 A2.19,2.19 0 0 1 585.50,152.60 A2.11,2.11 0 0 1 582.10,152.60 A2.11,2.11 0 0 1 578.70,152.60 A2.11,2.11 0 0 1 575.30,152.60 A2.11,2.11 0 0 1 571.90,152.60 A2.11,2.11 0 0 1 568.50,152.60 A2.11,2.11 0 0 1 565.10,152.60 A2.11,2.11 0 0 1 561.70,152.60 A2.11,2.11 0 0 1 558.30,152.60 A2.11,2.11 0 0 1 554.90,152.60 A2.11,2.11 0 0 1 551.50,152.60 A2.11,2.11 0 0 1 548.10,152.60 A2.11,2.11 0 0 1 544.70,152.60 A2.11,2.11 0 0 1 541.30,152.60 A2.11,2.11 0 0 1 537.90,152.60 A2.11,2.11 0 0 1 534.50,152.60 A2.19,2.19 0 0 1 534.50,149.07 A2.19,2.19 0 0 1 534.50,145.53 A2.19,2.19 0 0 1 534.50,142.00" fill="none" stroke="#777" stroke-width="0.55" />
<rect x="536.7" y="144.3" width="14.6" height="6.2" fill="#fff" stroke="#000" stroke-width="0.9"/>
<text x="544.0" y="148.5" font-family="Liberation Sans" font-size="2.9" text-anchor="middle" font-weight="bold" fill="#111">EXT MIC</text>
<line x1="551.3" y1="147.4" x2="563.8" y2="147.4" stroke="#000" stroke-width="0.9" stroke-dasharray="2.5 1 1 1"/>
<rect x="563.8" y="145.1" width="8.6" height="4.7" fill="#000" stroke="none" stroke-width="0"/>
<rect x="566" y="146" width="1.6" height="1.6" fill="#fff" stroke="none" stroke-width="0"/>
<circle cx="579.8" cy="147.5" r="5" fill="none" stroke="#777" stroke-width="0.5" stroke-dasharray="1.5 1"/>
<rect x="577.0999999999999" y="144.8" width="5.4" height="5.4" fill="#000" stroke="none" stroke-width="0"/>
<rect x="578.6999999999999" y="146.3" width="2.2" height="2.4" fill="#fff" stroke="none" stroke-width="0"/>
<path d="M530.0,138 L534.2,145.3 L525.8,145.3 Z" fill="none" stroke="#999" stroke-width="0.5" />
<rect x="617.0000000000001" y="182.6" width="6.6" height="5.4" fill="#000" stroke="none" stroke-width="0"/>
<rect x="618.1" y="183.49999999999997" width="1.6" height="1.4" fill="#fff" stroke="none" stroke-width="0"/>
<rect x="618.1" y="185.7" width="1.6" height="1.4" fill="#fff" stroke="none" stroke-width="0"/>
<rect x="620.9000000000001" y="183.49999999999997" width="1.6" height="1.4" fill="#fff" stroke="none" stroke-width="0"/>
<rect x="620.9000000000001" y="185.7" width="1.6" height="1.4" fill="#fff" stroke="none" stroke-width="0"/>
<ellipse cx="578.6" cy="195.0" rx="1.5" ry="2.7" fill="#000"/>
<text x="576.6" y="200.6" font-family="Liberation Sans" font-size="2.3" font-weight="bold" fill="#111">AC INPUT</text>
<rect x="569.6" y="193.70000000000002" width="3" height="3.2" fill="#000" stroke="none" stroke-width="0"/>
<path d="M569.2,193.60000000000002 L567.8000000000001,193.60000000000002 L565.8000000000001,195.3 L567.8000000000001,197.0 L569.2,197.0 Z" fill="#000" stroke="none" stroke-width="0" />
<line x1="561.1" y1="195.3" x2="566.6" y2="195.3" stroke="#000" stroke-width="1.2"/>
<text x="508.6" y="195.10000000000002" font-family="Liberation Sans" font-size="2.6" font-weight="bold" textLength="49" lengthAdjust="spacingAndGlyphs" stroke="#000" stroke-width="0.12" fill="#000">1PH-2W+E 220VAC, 50-60 HZ, FROM</text>
<text x="517.6" y="197.9" font-family="Liberation Sans" font-size="2.6" font-weight="bold" textLength="26" lengthAdjust="spacingAndGlyphs" stroke="#000" stroke-width="0.12" fill="#000">UPS DB (BY OTHERS)</text>
<rect x="617.0000000000001" y="223.8" width="6.6" height="5.4" fill="#000" stroke="none" stroke-width="0"/>
<rect x="618.1" y="224.7" width="1.6" height="1.4" fill="#fff" stroke="none" stroke-width="0"/>
<rect x="618.1" y="226.9" width="1.6" height="1.4" fill="#fff" stroke="none" stroke-width="0"/>
<rect x="620.9000000000001" y="224.7" width="1.6" height="1.4" fill="#fff" stroke="none" stroke-width="0"/>
<rect x="620.9000000000001" y="226.9" width="1.6" height="1.4" fill="#fff" stroke="none" stroke-width="0"/>
<ellipse cx="578.6" cy="236.20000000000002" rx="1.5" ry="2.7" fill="#000"/>
<text x="576.6" y="241.8" font-family="Liberation Sans" font-size="2.3" font-weight="bold" fill="#111">AC INPUT</text>
<rect x="569.6" y="234.9" width="3" height="3.2" fill="#000" stroke="none" stroke-width="0"/>
<path d="M569.2,234.8 L567.8000000000001,234.8 L565.8000000000001,236.5 L567.8000000000001,238.2 L569.2,238.2 Z" fill="#000" stroke="none" stroke-width="0" />
<line x1="561.1" y1="236.5" x2="566.6" y2="236.5" stroke="#000" stroke-width="1.2"/>
<text x="508.6" y="236.3" font-family="Liberation Sans" font-size="2.6" font-weight="bold" textLength="49" lengthAdjust="spacingAndGlyphs" stroke="#000" stroke-width="0.12" fill="#000">1PH-2W+E 220VAC, 50-60 HZ, FROM</text>
<text x="517.6" y="239.1" font-family="Liberation Sans" font-size="2.6" font-weight="bold" textLength="26" lengthAdjust="spacingAndGlyphs" stroke="#000" stroke-width="0.12" fill="#000">UPS DB (BY OTHERS)</text>
<rect x="582.4" y="278.4" width="53.6" height="28.0" fill="#fff" stroke="#000" stroke-width="1.15"/>
<line x1="582.4" y1="284.0" x2="636.0" y2="284.0" stroke="#000" stroke-width="0.9"/>
<text x="595.3499999999999" y="282.2" font-family="Liberation Sans" font-size="2.8" font-weight="bold" textLength="27.7" lengthAdjust="spacingAndGlyphs" fill="#111">VHF BASE STATION</text>
<circle cx="633.0" cy="274.09999999999997" r="2.6" fill="#fff" stroke="#333" stroke-width="0.55"/>
<text x="633.0" y="275.24999999999994" font-family="Liberation Sans" font-size="3.3" text-anchor="middle" font-weight="bold" fill="#111">20</text>
<rect x="582.6" y="273.0" width="22.8" height="4.9" fill="#fff" stroke="#666" stroke-width="0.5" rx="2.45"/>
<line x1="584.8000000000001" y1="273.45" x2="603.1999999999999" y2="273.45" stroke="#000" stroke-width="1.05"/>
<line x1="584.8000000000001" y1="277.45" x2="603.1999999999999" y2="277.45" stroke="#000" stroke-width="1.05"/>
<text x="587.8000000000001" y="276.59999999999997" font-family="Liberation Sans" font-size="3.1" font-weight="bold" textLength="12.8" lengthAdjust="spacingAndGlyphs" stroke="#000" stroke-width="0.15" fill="#000">1FA-R0002</text>
<rect x="648" y="278.4" width="53.6" height="28.0" fill="#fff" stroke="#000" stroke-width="1.15"/>
<line x1="648" y1="284.0" x2="701.6" y2="284.0" stroke="#000" stroke-width="0.9"/>
<text x="655.05" y="282.2" font-family="Liberation Sans" font-size="2.8" font-weight="bold" textLength="39.5" lengthAdjust="spacingAndGlyphs" fill="#111">VHF MARINE CONTROL UNIT</text>
<circle cx="698.6" cy="274.09999999999997" r="2.6" fill="#fff" stroke="#333" stroke-width="0.55"/>
<text x="698.6" y="275.24999999999994" font-family="Liberation Sans" font-size="3.3" text-anchor="middle" font-weight="bold" fill="#111">14</text>
<rect x="648.2" y="273.0" width="22.8" height="4.9" fill="#fff" stroke="#666" stroke-width="0.5" rx="2.45"/>
<line x1="650.4000000000001" y1="273.45" x2="668.8" y2="273.45" stroke="#000" stroke-width="1.05"/>
<line x1="650.4000000000001" y1="277.45" x2="668.8" y2="277.45" stroke="#000" stroke-width="1.05"/>
<text x="653.4000000000001" y="276.59999999999997" font-family="Liberation Sans" font-size="3.1" font-weight="bold" textLength="12.8" lengthAdjust="spacingAndGlyphs" stroke="#000" stroke-width="0.15" fill="#000">1FA-R0002</text>
<rect x="579.6" y="327.2" width="53.6" height="28.0" fill="#fff" stroke="#000" stroke-width="1.15"/>
<line x1="579.6" y1="332.8" x2="633.2" y2="332.8" stroke="#000" stroke-width="0.9"/>
<text x="596.15" y="331.0" font-family="Liberation Sans" font-size="2.8" font-weight="bold" textLength="20.5" lengthAdjust="spacingAndGlyphs" fill="#111">POWER SUPPLY</text>
<circle cx="630.2" cy="322.9" r="2.6" fill="#fff" stroke="#333" stroke-width="0.55"/>
<text x="630.2" y="324.04999999999995" font-family="Liberation Sans" font-size="3.3" text-anchor="middle" font-weight="bold" fill="#111">15</text>
<rect x="579.8000000000001" y="321.8" width="22.8" height="4.9" fill="#fff" stroke="#666" stroke-width="0.5" rx="2.45"/>
<line x1="582.0000000000001" y1="322.25" x2="600.4" y2="322.25" stroke="#000" stroke-width="1.05"/>
<line x1="582.0000000000001" y1="326.25" x2="600.4" y2="326.25" stroke="#000" stroke-width="1.05"/>
<text x="585.0000000000001" y="325.4" font-family="Liberation Sans" font-size="3.1" font-weight="bold" textLength="12.8" lengthAdjust="spacingAndGlyphs" stroke="#000" stroke-width="0.15" fill="#000">1FA-R0002</text>
<rect x="579.6" y="367.2" width="53.6" height="28.0" fill="#fff" stroke="#000" stroke-width="1.15"/>
<line x1="579.6" y1="372.8" x2="633.2" y2="372.8" stroke="#000" stroke-width="0.9"/>
<text x="587.4" y="371.0" font-family="Liberation Sans" font-size="2.8" font-weight="bold" textLength="38" lengthAdjust="spacingAndGlyphs" fill="#111">VHF MARINE TRANSCEIVER</text>
<circle cx="630.2" cy="362.9" r="2.6" fill="#fff" stroke="#333" stroke-width="0.55"/>
<text x="630.2" y="364.04999999999995" font-family="Liberation Sans" font-size="3.3" text-anchor="middle" font-weight="bold" fill="#111">18</text>
<rect x="579.8000000000001" y="361.8" width="22.8" height="4.9" fill="#fff" stroke="#666" stroke-width="0.5" rx="2.45"/>
<line x1="582.0000000000001" y1="362.25" x2="600.4" y2="362.25" stroke="#000" stroke-width="1.05"/>
<line x1="582.0000000000001" y1="366.25" x2="600.4" y2="366.25" stroke="#000" stroke-width="1.05"/>
<text x="585.0000000000001" y="365.4" font-family="Liberation Sans" font-size="3.1" font-weight="bold" textLength="12.8" lengthAdjust="spacingAndGlyphs" stroke="#000" stroke-width="0.15" fill="#000">1FA-R0002</text>
<rect x="579.6" y="406.6" width="53.6" height="28.0" fill="#fff" stroke="#000" stroke-width="1.15"/>
<line x1="579.6" y1="412.20000000000005" x2="633.2" y2="412.20000000000005" stroke="#000" stroke-width="0.9"/>
<text x="596.15" y="410.40000000000003" font-family="Liberation Sans" font-size="2.8" font-weight="bold" textLength="20.5" lengthAdjust="spacingAndGlyphs" fill="#111">POWER SUPPLY</text>
<circle cx="630.2" cy="402.3" r="2.6" fill="#fff" stroke="#333" stroke-width="0.55"/>
<text x="630.2" y="403.45" font-family="Liberation Sans" font-size="3.3" text-anchor="middle" font-weight="bold" fill="#111">19</text>
<rect x="579.8000000000001" y="401.20000000000005" width="22.8" height="4.9" fill="#fff" stroke="#666" stroke-width="0.5" rx="2.45"/>
<line x1="582.0000000000001" y1="401.65000000000003" x2="600.4" y2="401.65000000000003" stroke="#000" stroke-width="1.05"/>
<line x1="582.0000000000001" y1="405.65000000000003" x2="600.4" y2="405.65000000000003" stroke="#000" stroke-width="1.05"/>
<text x="585.0000000000001" y="404.8" font-family="Liberation Sans" font-size="3.1" font-weight="bold" textLength="12.8" lengthAdjust="spacingAndGlyphs" stroke="#000" stroke-width="0.15" fill="#000">1FA-R0002</text>
<polyline points="628,300.8 644.6,300.8 644.6,417.6 625,417.6" fill="none" stroke="#000" stroke-width="1"/>
<path d="M628,303 L636,303 L638.5,300.8" fill="none" stroke="#000" stroke-width="0.7" />
<polyline points="710,288.4 726,288.4 726,391.6 641,391.6" fill="none" stroke="#000" stroke-width="1" stroke-dasharray="2 1"/>
<path d="M715,301.3 L721.5,301.3 Q723.2,301.3 723.2,303 L723.2,311.6 Q723.2,313.3 721.5,313.3 L699.2,313.3 Q697.5,313.3 697.5,315 L697.5,334.5 L702,334.5" fill="none" stroke="#000" stroke-width="1.1" />
<line x1="625" y1="338.4" x2="702" y2="338.4" stroke="#000" stroke-width="1.3"/>
<path d="M628,340.6 L636,340.6 L638.5,338.4" fill="none" stroke="#000" stroke-width="0.7" />
<polyline points="697.5,338.4 697.5,348.2 704,348.2" fill="none" stroke="#000" stroke-width="0.9"/>
<line x1="701.5" y1="340" x2="701.5" y2="345.5" stroke="#000" stroke-width="0.9"/>
<polyline points="700.5,340.5 689.4,340.5 689.4,378.3 625,378.3" fill="none" stroke="#000" stroke-width="1"/>
<line x1="689.4" y1="349.8" x2="705" y2="349.8" stroke="#000" stroke-width="1"/>
<path d="M628,380.5 L636,380.5 L638.5,378.3" fill="none" stroke="#000" stroke-width="0.7" />
<path d="M628,419.8 L636,419.8 L638.5,417.6" fill="none" stroke="#000" stroke-width="0.7" />
<rect x="706.2" y="333.7" width="5" height="7.8" fill="#000" stroke="none" stroke-width="0"/>
<rect x="701.6" y="334.09999999999997" width="4.6" height="7.0" fill="#fff" stroke="#000" stroke-width="0.8"/>
<line x1="701.6" y1="335.84999999999997" x2="707.7" y2="335.84999999999997" stroke="#000" stroke-width="0.8"/>
<line x1="701.6" y1="337.59999999999997" x2="707.7" y2="337.59999999999997" stroke="#000" stroke-width="0.8"/>
<line x1="701.6" y1="339.34999999999997" x2="707.7" y2="339.34999999999997" stroke="#000" stroke-width="0.8"/>
<rect x="708.4000000000001" y="334.9" width="1.6" height="1.5" fill="#999" stroke="none" stroke-width="0"/>
<rect x="708.4000000000001" y="338.5" width="1.6" height="1.5" fill="#999" stroke="none" stroke-width="0"/>
<rect x="706.2" y="344.2" width="5" height="8.3" fill="#000" stroke="none" stroke-width="0"/>
<rect x="703.2" y="344.59999999999997" width="3" height="7.500000000000001" fill="#fff" stroke="#000" stroke-width="0.8"/>
<line x1="703.2" y1="346.47499999999997" x2="707.7" y2="346.47499999999997" stroke="#000" stroke-width="0.8"/>
<line x1="703.2" y1="348.34999999999997" x2="707.7" y2="348.34999999999997" stroke="#000" stroke-width="0.8"/>
<line x1="703.2" y1="350.22499999999997" x2="707.7" y2="350.22499999999997" stroke="#000" stroke-width="0.8"/>
<rect x="708.4000000000001" y="345.4" width="1.6" height="1.5" fill="#999" stroke="none" stroke-width="0"/>
<rect x="708.4000000000001" y="349.5" width="1.6" height="1.5" fill="#999" stroke="none" stroke-width="0"/>
<circle cx="681.9" cy="329.6" r="2.5" fill="#fff" stroke="#333" stroke-width="0.55"/>
<text x="681.9" y="330.75" font-family="Liberation Sans" font-size="3.3" text-anchor="middle" font-weight="bold" fill="#111">44</text>
<line x1="682" y1="332.1" x2="682" y2="341.5" stroke="#666" stroke-width="0.6"/>
<circle cx="705.3" cy="325.3" r="2.5" fill="#fff" stroke="#333" stroke-width="0.55"/>
<text x="705.3" y="326.45" font-family="Liberation Sans" font-size="3.3" text-anchor="middle" font-weight="bold" fill="#111">37</text>
<line x1="695.5" y1="325.3" x2="702.8" y2="325.3" stroke="#666" stroke-width="0.6"/>
<circle cx="651.8" cy="355.8" r="2.5" fill="#fff" stroke="#333" stroke-width="0.55"/>
<text x="651.8" y="356.95" font-family="Liberation Sans" font-size="3.3" text-anchor="middle" font-weight="bold" fill="#111">38</text>
<line x1="641" y1="355.8" x2="649.3" y2="355.8" stroke="#666" stroke-width="0.6"/>
<circle cx="696.7" cy="364.1" r="2.5" fill="#fff" stroke="#333" stroke-width="0.55"/>
<text x="696.7" y="365.25" font-family="Liberation Sans" font-size="3.3" text-anchor="middle" font-weight="bold" fill="#111">38</text>
<line x1="686" y1="364.1" x2="694.2" y2="364.1" stroke="#666" stroke-width="0.6"/>
<circle cx="717.4" cy="375.5" r="2.5" fill="#fff" stroke="#333" stroke-width="0.55"/>
<text x="717.4" y="376.65" font-family="Liberation Sans" font-size="3.3" text-anchor="middle" font-weight="bold" fill="#111">42</text>
<line x1="719.9" y1="375.5" x2="730" y2="375.5" stroke="#666" stroke-width="0.6"/>
<rect x="625.1" y="298.3" width="6.6" height="5.4" fill="#000" stroke="none" stroke-width="0"/>
<rect x="626.1999999999999" y="299.2" width="1.6" height="1.4" fill="#fff" stroke="none" stroke-width="0"/>
<rect x="626.1999999999999" y="301.4" width="1.6" height="1.4" fill="#fff" stroke="none" stroke-width="0"/>
<rect x="629.0" y="299.2" width="1.6" height="1.4" fill="#fff" stroke="none" stroke-width="0"/>
<rect x="629.0" y="301.4" width="1.6" height="1.4" fill="#fff" stroke="none" stroke-width="0"/>
<path d="M586.2,286.5 L587.8000000000001,289 L586.2,291.5 L584.6,289 Z" fill="#fff" stroke="#222" stroke-width="0.55" />
<text x="589" y="290" font-family="Liberation Sans" font-size="2.1" font-weight="bold" fill="#333">ANT</text>
<circle cx="589.5" cy="301.2" r="5" fill="none" stroke="#777" stroke-width="0.5" stroke-dasharray="1.5 1"/>
<rect x="586.8" y="298.5" width="5.4" height="5.4" fill="#000" stroke="none" stroke-width="0"/>
<rect x="588.4" y="300.0" width="2.2" height="2.4" fill="#fff" stroke="none" stroke-width="0"/>
<rect x="577.8" y="287.40000000000003" width="4.2" height="3.8" fill="#fff" stroke="#000" stroke-width="0.9"/>
<line x1="579.9" y1="287.40000000000003" x2="579.9" y2="291.2" stroke="#000" stroke-width="0.6"/>
<rect x="574.4" y="287.1" width="3.4" height="4.4" fill="#000" stroke="none" stroke-width="0"/>
<line x1="572" y1="289.3" x2="574.4" y2="289.3" stroke="#000" stroke-width="1.6"/>
<rect x="572.3" y="298.9" width="9" height="4.6" fill="#000" stroke="none" stroke-width="0"/>
<rect x="574.5" y="299.9" width="1.6" height="1.6" fill="#fff" stroke="none" stroke-width="0"/>
<rect x="544.5" y="297.79999999999995" width="14.8" height="6.2" fill="#fff" stroke="#000" stroke-width="0.9"/>
<text x="551.9" y="302.0" font-family="Liberation Sans" font-size="2.9" text-anchor="middle" font-weight="bold" fill="#111">EXT MIC</text>
<line x1="559.3" y1="301" x2="572.5" y2="301" stroke="#000" stroke-width="0.9" stroke-dasharray="2.5 1 1 1"/>
<path d="M544.4,306.2 L548.5,313 L540.3,313 Z" fill="none" stroke="#999" stroke-width="0.5" />
<path d="M543,296.3 A2.11,2.11 0 0 1 546.40,296.30 A2.11,2.11 0 0 1 549.80,296.30 A2.11,2.11 0 0 1 553.20,296.30 A2.11,2.11 0 0 1 556.60,296.30 A2.11,2.11 0 0 1 560.00,296.30 A2.11,2.11 0 0 1 563.40,296.30 A2.11,2.11 0 0 1 566.80,296.30 A2.11,2.11 0 0 1 570.20,296.30 A2.11,2.11 0 0 1 573.60,296.30 A2.11,2.11 0 0 1 577.00,296.30 A2.11,2.11 0 0 1 580.40,296.30 A2.11,2.11 0 0 1 583.80,296.30 A2.11,2.11 0 0 1 587.20,296.30 A2.11,2.11 0 0 1 590.60,296.30 A2.11,2.11 0 0 1 594.00,296.30 A2.00,2.00 0 0 1 594.00,299.53 A2.00,2.00 0 0 1 594.00,302.77 A2.00,2.00 0 0 1 594.00,306.00 A2.11,2.11 0 0 1 590.60,306.00 A2.11,2.11 0 0 1 587.20,306.00 A2.11,2.11 0 0 1 583.80,306.00 A2.11,2.11 0 0 1 580.40,306.00 A2.11,2.11 0 0 1 577.00,306.00 A2.11,2.11 0 0 1 573.60,306.00 A2.11,2.11 0 0 1 570.20,306.00 A2.11,2.11 0 0 1 566.80,306.00 A2.11,2.11 0 0 1 563.40,306.00 A2.11,2.11 0 0 1 560.00,306.00 A2.11,2.11 0 0 1 556.60,306.00 A2.11,2.11 0 0 1 553.20,306.00 A2.11,2.11 0 0 1 549.80,306.00 A2.11,2.11 0 0 1 546.40,306.00 A2.11,2.11 0 0 1 543.00,306.00 A2.00,2.00 0 0 1 543.00,302.77 A2.00,2.00 0 0 1 543.00,299.53 A2.00,2.00 0 0 1 543.00,296.30" fill="none" stroke="#777" stroke-width="0.55" />
<rect x="694.9" y="285.7" width="5.4" height="5.4" fill="#000" stroke="none" stroke-width="0"/>
<rect x="696.5" y="287.2" width="2.2" height="2.4" fill="#fff" stroke="none" stroke-width="0"/>
<rect x="703" y="287" width="2.6" height="2.8" fill="#000" stroke="none" stroke-width="0"/>
<rect x="706.2" y="287.2" width="3.6" height="2.6" fill="#000" stroke="none" stroke-width="0"/>
<circle cx="697.1" cy="301.2" r="2.3" fill="#000" stroke="none" stroke-width="0"/>
<circle cx="697.1" cy="301.2" r="0.8" fill="#777" stroke="none" stroke-width="0"/>
<rect x="703.7" y="299" width="3.2" height="4.6" fill="#000" stroke="none" stroke-width="0"/>
<rect x="707.5" y="299.2" width="5" height="4.2" fill="#000" stroke="none" stroke-width="0"/>
<path d="M712.5,299.5 L713.8,299.5 L715.8,301.3 L713.8,303.1 L712.5,303.1 Z" fill="#000" stroke="none" stroke-width="0" />
<line x1="532" y1="289.3" x2="573" y2="289.3" stroke="#000" stroke-width="1" stroke-dasharray="7 1.2 1.6 1.2"/>
<rect x="520.0999999999999" y="286.5" width="11.4" height="5.4" fill="#fff" stroke="#000" stroke-width="0.9"/>
<text x="525.8" y="290.5" font-family="Liberation Sans" font-size="3.2" text-anchor="middle" fill="#222">54</text>
<circle cx="525.8" cy="282.9" r="2.5" fill="#fff" stroke="#333" stroke-width="0.55"/>
<text x="525.8" y="284.04999999999995" font-family="Liberation Sans" font-size="3.3" text-anchor="middle" font-weight="bold" fill="#111">40</text>
<line x1="525.8" y1="291.9" x2="525.8" y2="294.5" stroke="#000" stroke-width="0.9"/>
<path d="M523.5999999999999,294.5 L528.0,294.5 L525.8,297.3 Z" fill="#000" stroke="none" stroke-width="0" />
<circle cx="549.5" cy="280.5" r="2.4" fill="#fff" stroke="#333" stroke-width="0.55"/>
<text x="549.5" y="281.65" font-family="Liberation Sans" font-size="3.3" text-anchor="middle" font-weight="bold" fill="#111">41</text>
<line x1="549.5" y1="282.9" x2="549.5" y2="292.5" stroke="#888" stroke-width="0.5"/>
<text x="512" y="292.0" font-family="Liberation Sans" font-size="2.7" font-weight="bold" textLength="6.5" lengthAdjust="spacingAndGlyphs" stroke="#000" stroke-width="0.3" fill="#000">RG-214</text>
<text x="533.3" y="292.0" font-family="Liberation Sans" font-size="2.7" font-weight="bold" textLength="7" lengthAdjust="spacingAndGlyphs" stroke="#000" stroke-width="0.3" fill="#000">RG-214</text>
<text x="560" y="292.0" font-family="Liberation Sans" font-size="2.7" font-weight="bold" textLength="8.5" lengthAdjust="spacingAndGlyphs" stroke="#000" stroke-width="0.3" fill="#000">RG-214</text>
<rect x="622.1" y="375.8" width="6.6" height="5.4" fill="#000" stroke="none" stroke-width="0"/>
<rect x="623.1999999999999" y="376.7" width="1.6" height="1.4" fill="#fff" stroke="none" stroke-width="0"/>
<rect x="623.1999999999999" y="378.9" width="1.6" height="1.4" fill="#fff" stroke="none" stroke-width="0"/>
<rect x="626.0" y="376.7" width="1.6" height="1.4" fill="#fff" stroke="none" stroke-width="0"/>
<rect x="626.0" y="378.9" width="1.6" height="1.4" fill="#fff" stroke="none" stroke-width="0"/>
<rect x="627.2" y="388.8" width="5.4" height="5.4" fill="#000" stroke="none" stroke-width="0"/>
<rect x="628.8" y="390.3" width="2.2" height="2.4" fill="#fff" stroke="none" stroke-width="0"/>
<path d="M634.5,389.4 L639.0,389.4 L641.0,391.5 L639.0,393.6 L634.5,393.6 Z" fill="#000" stroke="none" stroke-width="0" />
<path d="M583.6,372.9 L585.1,375.2 L583.6,377.5 L582.1,375.2 Z" fill="#fff" stroke="#222" stroke-width="0.55" />
<text x="586" y="376.2" font-family="Liberation Sans" font-size="2.1" font-weight="bold" fill="#333">A/TX</text>
<path d="M583.6,390.59999999999997 L585.1,392.9 L583.6,395.2 L582.1,392.9 Z" fill="#fff" stroke="#222" stroke-width="0.55" />
<text x="586" y="393.9" font-family="Liberation Sans" font-size="2.1" font-weight="bold" fill="#333">RX</text>
<line x1="532" y1="375.2" x2="572" y2="375.2" stroke="#000" stroke-width="1" stroke-dasharray="7 1.2 1.6 1.2"/>
<rect x="572.6" y="373.09999999999997" width="6.4" height="4.2" fill="#000" stroke="none" stroke-width="0"/>
<rect x="520.1999999999999" y="372.5" width="11.4" height="5.4" fill="#fff" stroke="#000" stroke-width="0.9"/>
<text x="525.9" y="376.5" font-family="Liberation Sans" font-size="3.2" text-anchor="middle" fill="#222">54</text>
<circle cx="525.9" cy="368.9" r="2.5" fill="#fff" stroke="#333" stroke-width="0.55"/>
<text x="525.9" y="370.04999999999995" font-family="Liberation Sans" font-size="3.3" text-anchor="middle" font-weight="bold" fill="#111">39</text>
<line x1="525.9" y1="377.9" x2="525.9" y2="380.5" stroke="#000" stroke-width="0.9"/>
<path d="M523.6999999999999,380.5 L528.1,380.5 L525.9,383.3 Z" fill="#000" stroke="none" stroke-width="0" />
<text x="512" y="377.90000000000003" font-family="Liberation Sans" font-size="2.7" font-weight="bold" textLength="6.5" lengthAdjust="spacingAndGlyphs" stroke="#000" stroke-width="0.3" fill="#000">RG-214</text>
<text x="533.3" y="377.90000000000003" font-family="Liberation Sans" font-size="2.7" font-weight="bold" textLength="7" lengthAdjust="spacingAndGlyphs" stroke="#000" stroke-width="0.3" fill="#000">RG-214</text>
<text x="557" y="377.90000000000003" font-family="Liberation Sans" font-size="2.7" font-weight="bold" textLength="9" lengthAdjust="spacingAndGlyphs" stroke="#000" stroke-width="0.3" fill="#000">RG-214</text>
<line x1="532" y1="392.9" x2="572" y2="392.9" stroke="#000" stroke-width="1" stroke-dasharray="7 1.2 1.6 1.2"/>
<rect x="572.6" y="390.79999999999995" width="6.4" height="4.2" fill="#000" stroke="none" stroke-width="0"/>
<rect x="520.1999999999999" y="390.2" width="11.4" height="5.4" fill="#fff" stroke="#000" stroke-width="0.9"/>
<text x="525.9" y="394.2" font-family="Liberation Sans" font-size="3.2" text-anchor="middle" fill="#222">54</text>
<circle cx="525.9" cy="386.59999999999997" r="2.5" fill="#fff" stroke="#333" stroke-width="0.55"/>
<text x="525.9" y="387.74999999999994" font-family="Liberation Sans" font-size="3.3" text-anchor="middle" font-weight="bold" fill="#111">46</text>
<line x1="525.9" y1="395.59999999999997" x2="525.9" y2="398.2" stroke="#000" stroke-width="0.9"/>
<path d="M523.6999999999999,398.2 L528.1,398.2 L525.9,401.0 Z" fill="#000" stroke="none" stroke-width="0" />
<text x="512" y="395.6" font-family="Liberation Sans" font-size="2.7" font-weight="bold" textLength="6.5" lengthAdjust="spacingAndGlyphs" stroke="#000" stroke-width="0.3" fill="#000">RG-214</text>
<text x="533.3" y="395.6" font-family="Liberation Sans" font-size="2.7" font-weight="bold" textLength="7" lengthAdjust="spacingAndGlyphs" stroke="#000" stroke-width="0.3" fill="#000">RG-214</text>
<text x="557" y="395.6" font-family="Liberation Sans" font-size="2.7" font-weight="bold" textLength="9" lengthAdjust="spacingAndGlyphs" stroke="#000" stroke-width="0.3" fill="#000">RG-214</text>
<circle cx="549.3" cy="367" r="2.4" fill="#fff" stroke="#333" stroke-width="0.55"/>
<text x="549.3" y="368.15" font-family="Liberation Sans" font-size="3.3" text-anchor="middle" font-weight="bold" fill="#111">43</text>
<line x1="549.3" y1="369.4" x2="549.3" y2="379" stroke="#888" stroke-width="0.5"/>
<circle cx="549.3" cy="384.5" r="2.4" fill="#fff" stroke="#333" stroke-width="0.55"/>
<text x="549.3" y="385.65" font-family="Liberation Sans" font-size="3.3" text-anchor="middle" font-weight="bold" fill="#111">45</text>
<line x1="549.3" y1="386.9" x2="549.3" y2="396.5" stroke="#888" stroke-width="0.5"/>
<rect x="622.0000000000001" y="336.2" width="6.6" height="5.4" fill="#000" stroke="none" stroke-width="0"/>
<rect x="623.1" y="337.09999999999997" width="1.6" height="1.4" fill="#fff" stroke="none" stroke-width="0"/>
<rect x="623.1" y="339.29999999999995" width="1.6" height="1.4" fill="#fff" stroke="none" stroke-width="0"/>
<rect x="625.9000000000001" y="337.09999999999997" width="1.6" height="1.4" fill="#fff" stroke="none" stroke-width="0"/>
<rect x="625.9000000000001" y="339.29999999999995" width="1.6" height="1.4" fill="#fff" stroke="none" stroke-width="0"/>
<ellipse cx="583.6" cy="348.59999999999997" rx="1.5" ry="2.7" fill="#000"/>
<text x="581.6" y="354.2" font-family="Liberation Sans" font-size="2.3" font-weight="bold" fill="#111">AC INPUT</text>
<rect x="574.6" y="347.2" width="3" height="3.2" fill="#000" stroke="none" stroke-width="0"/>
<path d="M574.2,347.1 L572.8000000000001,347.1 L570.8000000000001,348.8 L572.8000000000001,350.5 L574.2,350.5 Z" fill="#000" stroke="none" stroke-width="0" />
<line x1="566.1" y1="348.8" x2="571.6" y2="348.8" stroke="#000" stroke-width="1.2"/>
<text x="513.6" y="348.6" font-family="Liberation Sans" font-size="2.6" font-weight="bold" textLength="49" lengthAdjust="spacingAndGlyphs" stroke="#000" stroke-width="0.12" fill="#000">1PH-2W+E 220VAC, 50-60 HZ, FROM</text>
<text x="522.6" y="351.40000000000003" font-family="Liberation Sans" font-size="2.6" font-weight="bold" textLength="26" lengthAdjust="spacingAndGlyphs" stroke="#000" stroke-width="0.12" fill="#000">UPS DB (BY OTHERS)</text>
<rect x="622.0000000000001" y="415.6" width="6.6" height="5.4" fill="#000" stroke="none" stroke-width="0"/>
<rect x="623.1" y="416.5" width="1.6" height="1.4" fill="#fff" stroke="none" stroke-width="0"/>
<rect x="623.1" y="418.7" width="1.6" height="1.4" fill="#fff" stroke="none" stroke-width="0"/>
<rect x="625.9000000000001" y="416.5" width="1.6" height="1.4" fill="#fff" stroke="none" stroke-width="0"/>
<rect x="625.9000000000001" y="418.7" width="1.6" height="1.4" fill="#fff" stroke="none" stroke-width="0"/>
<ellipse cx="583.6" cy="428.0" rx="1.5" ry="2.7" fill="#000"/>
<text x="581.6" y="433.6" font-family="Liberation Sans" font-size="2.3" font-weight="bold" fill="#111">AC INPUT</text>
<rect x="574.6" y="426.79999999999995" width="3" height="3.2" fill="#000" stroke="none" stroke-width="0"/>
<path d="M574.2,426.7 L572.8000000000001,426.7 L570.8000000000001,428.4 L572.8000000000001,430.09999999999997 L574.2,430.09999999999997 Z" fill="#000" stroke="none" stroke-width="0" />
<line x1="566.1" y1="428.4" x2="571.6" y2="428.4" stroke="#000" stroke-width="1.2"/>
<text x="513.6" y="428.2" font-family="Liberation Sans" font-size="2.6" font-weight="bold" textLength="49" lengthAdjust="spacingAndGlyphs" stroke="#000" stroke-width="0.12" fill="#000">1PH-2W+E 220VAC, 50-60 HZ, FROM</text>
<text x="522.6" y="431.0" font-family="Liberation Sans" font-size="2.6" font-weight="bold" textLength="26" lengthAdjust="spacingAndGlyphs" stroke="#000" stroke-width="0.12" fill="#000">UPS DB (BY OTHERS)</text>
<rect x="54" y="424.2" width="30.5" height="13.8" fill="#fff" stroke="#000" stroke-width="1"/>
<text x="56" y="429.8" font-family="Liberation Sans" font-size="3.6" font-weight="bold" textLength="13" lengthAdjust="spacingAndGlyphs" fill="#111">SCALE</text>
<text x="75" y="429.8" font-family="Liberation Sans" font-size="3.6" fill="#444">:</text>
<text x="64.5" y="435.6" font-family="Liberation Sans" font-size="3.6" font-weight="bold" textLength="8" lengthAdjust="spacingAndGlyphs" fill="#222">NTS</text>
<line x1="49.5" y1="440.7" x2="735" y2="440.7" stroke="#000" stroke-width="1.6"/>
<text x="54" y="447.3" font-family="Liberation Sans" font-size="3.6" textLength="14" lengthAdjust="spacingAndGlyphs" fill="#555">NOTES :</text>
<line x1="120.5" y1="440.7" x2="120.5" y2="515.5" stroke="#000" stroke-width="1.3"/>
<line x1="180.5" y1="440.7" x2="180.5" y2="515.5" stroke="#000" stroke-width="1.1"/>
<line x1="197.5" y1="440.7" x2="197.5" y2="515.5" stroke="#000" stroke-width="1.1"/>
<line x1="219.5" y1="440.7" x2="219.5" y2="515.5" stroke="#000" stroke-width="1.1"/>
<line x1="242" y1="440.7" x2="242" y2="515.5" stroke="#000" stroke-width="1.1"/>
<line x1="341.2" y1="440.7" x2="341.2" y2="515.5" stroke="#000" stroke-width="1.1"/>
<line x1="359.5" y1="440.7" x2="359.5" y2="515.5" stroke="#000" stroke-width="1.1"/>
<line x1="377.5" y1="440.7" x2="377.5" y2="515.5" stroke="#000" stroke-width="1.1"/>
<line x1="395.4" y1="440.7" x2="395.4" y2="515.5" stroke="#000" stroke-width="1.1"/>
<line x1="414" y1="440.7" x2="414" y2="515.5" stroke="#000" stroke-width="1.1"/>
<line x1="432.2" y1="440.7" x2="432.2" y2="515.5" stroke="#000" stroke-width="1.1"/>
<line x1="450.7" y1="440.7" x2="450.7" y2="506.3" stroke="#000" stroke-width="1.1"/>
<line x1="468.5" y1="440.7" x2="468.5" y2="515.5" stroke="#000" stroke-width="1.3"/>
<line x1="120.5" y1="451" x2="468.5" y2="451" stroke="#000" stroke-width="1.1"/>
<line x1="120.5" y1="460.5" x2="468.5" y2="460.5" stroke="#000" stroke-width="1.1"/>
<line x1="120.5" y1="469.7" x2="468.5" y2="469.7" stroke="#000" stroke-width="1.1"/>
<line x1="120.5" y1="478.9" x2="468.5" y2="478.9" stroke="#000" stroke-width="1.1"/>
<line x1="120.5" y1="488" x2="468.5" y2="488" stroke="#000" stroke-width="1.1"/>
<line x1="120.5" y1="496.9" x2="468.5" y2="496.9" stroke="#000" stroke-width="1.1"/>
<line x1="432.2" y1="506.3" x2="468.5" y2="506.3" stroke="#000" stroke-width="1.1"/>
<text x="189" y="475.6" font-family="Liberation Sans" font-size="3.2" text-anchor="middle" fill="#333">1</text>
<text x="198.3" y="475.6" font-family="Liberation Sans" font-size="3.1" textLength="20.5" lengthAdjust="spacingAndGlyphs" fill="#333">05/19/2023</text>
<text x="230.7" y="475.6" font-family="Liberation Sans" font-size="3.2" text-anchor="middle" font-weight="bold" fill="#111">AFC</text>
<text x="263.0" y="475.6" font-family="Liberation Sans" font-size="3.5" textLength="57" lengthAdjust="spacingAndGlyphs" fill="#222">APPROVED FOR CONSTRUCTION</text>
<text x="350.3" y="475.6" font-family="Liberation Sans" font-size="3.0" text-anchor="middle" fill="#444">HSN</text>
<text x="368.5" y="475.6" font-family="Liberation Sans" font-size="3.2" text-anchor="middle" font-weight="bold" fill="#222">DJR</text>
<text x="386.5" y="475.6" font-family="Liberation Sans" font-size="3.0" text-anchor="middle" fill="#444">MY</text>
<text x="404.7" y="475.6" font-family="Liberation Sans" font-size="3.2" text-anchor="middle" font-weight="bold" fill="#222">UGE</text>
<text x="423" y="475.6" font-family="Liberation Sans" font-size="3.0" text-anchor="middle" fill="#444">HS</text>
<text x="441.4" y="475.6" font-family="Liberation Sans" font-size="3.4" text-anchor="middle" font-weight="bold" textLength="13.5" lengthAdjust="spacingAndGlyphs" fill="#111">YB/DC</text>
<text x="459.6" y="475.6" font-family="Liberation Sans" font-size="3.5" text-anchor="middle" font-weight="bold" textLength="8.5" lengthAdjust="spacingAndGlyphs" fill="#111">DJM</text>
<text x="124" y="484.8" font-family="Liberation Sans" font-size="3.2" font-weight="bold" textLength="53" lengthAdjust="spacingAndGlyphs" fill="#444">FGY-MeS-Ins-TELTEL-DGe-0001</text>
<text x="189" y="484.8" font-family="Liberation Sans" font-size="3.2" text-anchor="middle" fill="#333">C0</text>
<text x="198.3" y="484.8" font-family="Liberation Sans" font-size="3.1" textLength="20.5" lengthAdjust="spacingAndGlyphs" fill="#333">11/10/2022</text>
<text x="230.7" y="484.8" font-family="Liberation Sans" font-size="3.2" text-anchor="middle" font-weight="bold" fill="#111">IFA</text>
<text x="270.5" y="484.8" font-family="Liberation Sans" font-size="3.5" textLength="42" lengthAdjust="spacingAndGlyphs" fill="#222">ISSUED FOR APPROVAL</text>
<text x="350.3" y="484.8" font-family="Liberation Sans" font-size="3.0" text-anchor="middle" fill="#444">HSN</text>
<text x="368.5" y="484.8" font-family="Liberation Sans" font-size="3.2" text-anchor="middle" font-weight="bold" fill="#222">DJR</text>
<text x="386.5" y="484.8" font-family="Liberation Sans" font-size="3.0" text-anchor="middle" fill="#444">MY</text>
<text x="404.7" y="484.8" font-family="Liberation Sans" font-size="3.2" text-anchor="middle" font-weight="bold" fill="#222">UGE</text>
<text x="423" y="484.8" font-family="Liberation Sans" font-size="3.0" text-anchor="middle" fill="#444">HS</text>
<text x="441.4" y="484.8" font-family="Liberation Sans" font-size="3.4" text-anchor="middle" font-weight="bold" textLength="13.5" lengthAdjust="spacingAndGlyphs" fill="#111">YB/DC</text>
<text x="459.6" y="484.8" font-family="Liberation Sans" font-size="3.5" text-anchor="middle" font-weight="bold" textLength="8.5" lengthAdjust="spacingAndGlyphs" fill="#111">DJM</text>
<text x="124" y="493.8" font-family="Liberation Sans" font-size="3.2" font-weight="bold" textLength="53" lengthAdjust="spacingAndGlyphs" fill="#444">FGY-MeS-Ins-TELTEL-HTy-0007</text>
<text x="189" y="493.8" font-family="Liberation Sans" font-size="3.2" text-anchor="middle" fill="#333">CA</text>
<text x="198.3" y="493.8" font-family="Liberation Sans" font-size="3.1" textLength="20.5" lengthAdjust="spacingAndGlyphs" fill="#333">10/10/2022</text>
<text x="230.7" y="493.8" font-family="Liberation Sans" font-size="3.2" text-anchor="middle" font-weight="bold" fill="#111">IFC</text>
<text x="270.5" y="493.8" font-family="Liberation Sans" font-size="3.5" textLength="42" lengthAdjust="spacingAndGlyphs" fill="#222">ISSUED FOR COMMENT</text>
<text x="350.3" y="493.8" font-family="Liberation Sans" font-size="3.0" text-anchor="middle" fill="#444">HSN</text>
<text x="368.5" y="493.8" font-family="Liberation Sans" font-size="3.2" text-anchor="middle" font-weight="bold" fill="#222">DJR</text>
<text x="386.5" y="493.8" font-family="Liberation Sans" font-size="3.0" text-anchor="middle" fill="#444">MY</text>
<text x="404.7" y="493.8" font-family="Liberation Sans" font-size="3.2" text-anchor="middle" font-weight="bold" fill="#222">UGE</text>
<text x="423" y="493.8" font-family="Liberation Sans" font-size="3.0" text-anchor="middle" fill="#444">HS</text>
<text x="441.4" y="493.8" font-family="Liberation Sans" font-size="3.4" text-anchor="middle" font-weight="bold" textLength="13.5" lengthAdjust="spacingAndGlyphs" fill="#111">YB/DC</text>
<text x="459.6" y="493.8" font-family="Liberation Sans" font-size="3.5" text-anchor="middle" font-weight="bold" textLength="8.5" lengthAdjust="spacingAndGlyphs" fill="#111">DJM</text>
<text x="149.5" y="507.8" font-family="Liberation Sans" font-size="3.5" text-anchor="middle" font-weight="bold" textLength="31" lengthAdjust="spacingAndGlyphs" fill="#222">REFERENCE DWG</text>
<text x="189" y="507.8" font-family="Liberation Sans" font-size="3.3" text-anchor="middle" font-weight="bold" textLength="6.5" lengthAdjust="spacingAndGlyphs" fill="#111">REV</text>
<text x="208.5" y="507.8" font-family="Liberation Sans" font-size="3.3" text-anchor="middle" font-weight="bold" textLength="8.5" lengthAdjust="spacingAndGlyphs" fill="#111">DATE</text>
<text x="230.5" y="507.8" font-family="Liberation Sans" font-size="3.3" text-anchor="middle" font-weight="bold" textLength="12" lengthAdjust="spacingAndGlyphs" fill="#222">STATUS</text>
<text x="291.5" y="507.8" font-family="Liberation Sans" font-size="3.5" text-anchor="middle" font-weight="bold" textLength="22" lengthAdjust="spacingAndGlyphs" fill="#222">DESCRIPTION</text>
<text x="350.3" y="507.8" font-family="Liberation Sans" font-size="3.2" text-anchor="middle" fill="#333">BY</text>
<text x="368.5" y="507.8" font-family="Liberation Sans" font-size="3.3" text-anchor="middle" font-weight="bold" fill="#111">CHK</text>
<text x="386.5" y="507.8" font-family="Liberation Sans" font-size="3.2" text-anchor="middle" fill="#333">ENG</text>
<text x="404.7" y="505.3" font-family="Liberation Sans" font-size="3.2" text-anchor="middle" font-weight="bold" fill="#111">LEAD</text>
<text x="404.7" y="510.8" font-family="Liberation Sans" font-size="3.2" text-anchor="middle" font-weight="bold" fill="#111">ENG</text>
<text x="423" y="507.8" font-family="Liberation Sans" font-size="3.1" text-anchor="middle" fill="#555">MNGR</text>
<text x="441.4" y="503.6" font-family="Liberation Sans" font-size="3.0" text-anchor="middle" font-weight="bold" textLength="16" lengthAdjust="spacingAndGlyphs" fill="#222">DESIGNER</text>
<text x="459.6" y="503.6" font-family="Liberation Sans" font-size="3.0" text-anchor="middle" fill="#444">PIM</text>
<text x="450.5" y="512.8" font-family="Liberation Sans" font-size="3.4" text-anchor="middle" font-weight="bold" fill="#222">INDO?</text>
<path d="M344,463.5 q3,-3.5 6,-1.5 q3,2 -2,4 q-4,1.5 -1,-2 q3,-2 7,1.5 M344.5,468.3 L354.5,468.3" fill="none" stroke="#3b5bdb" stroke-width="0.7" />
<path d="M363,467 q1.5,-4 3,-4.5 q1,2 0.5,4 q2.5,-3 4,-3.5 l1,3.5" fill="none" stroke="#3b5bdb" stroke-width="0.6" />
<path d="M381,468 l3.5,-6 q2,-0.5 3,0.5 q-2,1 -4,1.5 q4,0 6,1" fill="none" stroke="#3b5bdb" stroke-width="0.6" />
<path d="M398,465 q3,-2.5 5,-1 q-3,2.5 -2,3 q4,-2 8,-1.5" fill="none" stroke="#3b5bdb" stroke-width="0.6" />
<path d="M417,463 q3,-1.5 5,0 q2,3 -2,4 q-3,0 -1,-2.5 q3,-1 7,2" fill="none" stroke="#3b5bdb" stroke-width="0.6" />
<line x1="468.5" y1="483.6" x2="604.7" y2="483.6" stroke="#000" stroke-width="1.2"/>
<line x1="468.5" y1="495.8" x2="604.7" y2="495.8" stroke="#000" stroke-width="1.1"/>
<line x1="468.5" y1="507.4" x2="604.7" y2="507.4" stroke="#000" stroke-width="1.1"/>
<line x1="537.1" y1="483.6" x2="537.1" y2="507.4" stroke="#000" stroke-width="1.1"/>
<line x1="570.9" y1="507.4" x2="570.9" y2="515.5" stroke="#000" stroke-width="1.1"/>
<text transform="translate(477,460) scale(0.862,1)" font-family="Liberation Sans" font-weight="bold" fill="#111" stroke="#111" stroke-width="0.25"><tspan font-size="13.6">M</tspan><tspan font-size="10.3">EDCO</tspan><tspan font-size="13.6">E</tspan><tspan font-size="10.3">NERGI</tspan></text>
<text x="506" y="471.8" font-family="Liberation Sans" font-size="10" fill="#9db4ff" textLength="12.6" lengthAdjust="spacingAndGlyphs">Oil</text>
<text x="522.3" y="471.9" font-family="Liberation Sans" font-size="10.6" font-weight="bold" fill="#1f3fe0" textLength="8.6" lengthAdjust="spacingAndGlyphs">&amp;</text>
<text x="531.8" y="471.8" font-family="Liberation Sans" font-size="10" fill="#9db4ff" textLength="18.2" lengthAdjust="spacingAndGlyphs">Gas</text>
<circle cx="572.1" cy="461.5" r="14.75" fill="none" stroke="#1430e0" stroke-width="2.7"/>
<text x="573.9" y="463.8" font-family="Liberation Sans" font-size="10.7" font-weight="bold" fill="#1430e0" stroke="#1430e0" stroke-width="0.7" textLength="9.2" lengthAdjust="spacingAndGlyphs">M</text>
<path d="M594.7,449.9 L594.7,448.5 L588.6,448.5 L592.3,451.9 L588.4,455.3 L594.9,455.3 L594.9,453.9" fill="none" stroke="#1430e0" stroke-width="2.2" stroke-linejoin="miter" stroke-linecap="square"/>
<text x="469.3" y="488.4" font-family="Liberation Sans" font-size="3.0" textLength="36" lengthAdjust="spacingAndGlyphs" fill="#555">MEDCO ENERGI OWNER :</text>
<text x="472.4" y="493.3" font-family="Liberation Sans" font-size="3.3" font-weight="bold" textLength="60" lengthAdjust="spacingAndGlyphs" fill="#222">PGS/PRODUCT EQUIPMENT ENGINEERING</text>
<text x="538.3" y="488.4" font-family="Liberation Sans" font-size="3.0" textLength="10" lengthAdjust="spacingAndGlyphs" fill="#444">OWNER :</text>
<text x="556.3" y="493.3" font-family="Liberation Sans" font-size="3.2" font-weight="bold" textLength="17.4" lengthAdjust="spacingAndGlyphs" fill="#333">PT. FORSEL</text>
<text x="469.3" y="499.9" font-family="Liberation Sans" font-size="3.0" font-weight="bold" textLength="13" lengthAdjust="spacingAndGlyphs" fill="#333">PROJECT :</text>
<text x="491.2" y="503.4" font-family="Liberation Sans" font-size="3.2" font-weight="bold" textLength="20.6" lengthAdjust="spacingAndGlyphs" fill="#444">FORSEL FPSO</text>
<text x="538.3" y="499.9" font-family="Liberation Sans" font-size="3.0" textLength="11.5" lengthAdjust="spacingAndGlyphs" fill="#444">SYSTEM :</text>
<text x="538.1" y="505.2" font-family="Liberation Sans" font-size="3.4" font-weight="bold" textLength="54.4" lengthAdjust="spacingAndGlyphs" fill="#222">TELECOMMUNICATION PACKAGE</text>
<text x="469" y="513.2" font-family="Liberation Sans" font-size="5.2" font-weight="bold" textLength="99" lengthAdjust="spacingAndGlyphs" fill="#111">ALL DRAWINGS DO NOT SCALE MANUALLY</text>
<text x="572.2" y="511.3" font-family="Liberation Sans" font-size="2.6" font-weight="bold" textLength="6" lengthAdjust="spacingAndGlyphs" fill="#111">FILE:</text>
<text x="573" y="514" font-family="Liberation Sans" font-size="2.8" font-weight="bold" textLength="31" lengthAdjust="spacingAndGlyphs" fill="#333">FGY-MeS-Ins-TEL-HTy.dwg</text>
<line x1="604.7" y1="440.7" x2="604.7" y2="515.5" stroke="#000" stroke-width="1.5"/>
<line x1="604.7" y1="454.5" x2="735" y2="454.5" stroke="#000" stroke-width="1.5"/>
<line x1="604.7" y1="465.6" x2="735" y2="465.6" stroke="#000" stroke-width="1.5"/>
<line x1="604.7" y1="476.6" x2="735" y2="476.6" stroke="#000" stroke-width="1.5"/>
<line x1="604.7" y1="487.7" x2="735" y2="487.7" stroke="#000" stroke-width="1.5"/>
<line x1="604.7" y1="502.3" x2="735" y2="502.3" stroke="#000" stroke-width="1.5"/>
<line x1="626.6" y1="502.3" x2="626.6" y2="515.5" stroke="#000" stroke-width="1.1"/>
<line x1="722.6" y1="502.3" x2="722.6" y2="515.5" stroke="#000" stroke-width="1.1"/>
<rect x="628.1" y="503.8" width="92.9" height="4.5" fill="none" stroke="#333" stroke-width="0.8"/>
<rect x="628.1" y="509.9" width="92.9" height="4.5" fill="none" stroke="#333" stroke-width="0.8"/>
<line x1="663.7" y1="503.8" x2="663.7" y2="508.3" stroke="#000" stroke-width="0.8"/>
<line x1="663.7" y1="509.9" x2="663.7" y2="514.4" stroke="#000" stroke-width="0.8"/>
<rect x="617.4" y="442.1" width="7.9" height="6.8" fill="#2a9be3" stroke="none" stroke-width="0"/>
<text x="621.4" y="448.2" font-family="Liberation Sans" font-size="7.5" text-anchor="middle" font-weight="bold" fill="#fff">h</text>
<text x="613" y="451.9" font-family="Liberation Sans" font-size="2.8" textLength="16.5" lengthAdjust="spacingAndGlyphs" fill="#6bbbe8">hutama karya</text>
<circle cx="636.6" cy="447" r="4.2" fill="#2a6fc0" stroke="#d9342b" stroke-width="1.8" stroke-dasharray="1.3 0.6"/>
<circle cx="636.6" cy="447" r="1.6" fill="#e8f0ff" stroke="none" stroke-width="0"/>
<path d="M644.6,450.8 L649.8,443.8 L649.8,450.8 Z" fill="#1c4fd0" stroke="none" stroke-width="0" />
<path d="M649.6,450.8 L654.8,443.8 L654.8,450.8 Z" fill="#1c4fd0" stroke="none" stroke-width="0" />
<text x="655.2" y="450.8" font-family="Liberation Serif" font-size="8" font-weight="bold" fill="#1c4fd0" textLength="8.4" lengthAdjust="spacingAndGlyphs">TC</text>
<line x1="644" y1="452" x2="663.5" y2="452" stroke="#1c4fd0" stroke-width="0.5"/>
<path d="M686.5,452.5 q3,0 6,-4" fill="none" stroke="#20c8e0" stroke-width="1.3" />
<path d="M690,443 q6,-1.5 13,0" fill="none" stroke="#e8b020" stroke-width="1.1" />
<path d="M700,446 q3,2 6,-1.5" fill="none" stroke="#d03a2a" stroke-width="1.0" />
<text x="688.3" y="450.6" font-family="Liberation Serif" font-size="10" font-weight="bold" fill="#111" textLength="18.6" lengthAdjust="spacingAndGlyphs">ITEC</text>
<line x1="688" y1="451.6" x2="707" y2="451.6" stroke="#222" stroke-width="0.6"/>
<text x="606" y="457.6" font-family="Liberation Sans" font-size="2.8" textLength="8" lengthAdjust="spacingAndGlyphs" fill="#555">FACIL.</text>
<text x="614.5" y="457.6" font-family="Liberation Sans" font-size="3.0" font-weight="bold" textLength="8.5" lengthAdjust="spacingAndGlyphs" fill="#111">TITLE</text>
<text x="643.5" y="460.9" font-family="Liberation Sans" font-size="3.5" font-weight="bold" textLength="51.8" lengthAdjust="spacingAndGlyphs" fill="#333">FORSEL FPSO DMB CHARTER</text>
<text x="606" y="469.7" font-family="Liberation Sans" font-size="3.1" font-weight="bold" textLength="21" lengthAdjust="spacingAndGlyphs" fill="#333">DISCIPLINE /</text>
<text x="606" y="474.2" font-family="Liberation Sans" font-size="3.1" font-weight="bold" textLength="25" lengthAdjust="spacingAndGlyphs" fill="#444">SUB-DISCIPLINE</text>
<text x="647.8" y="472.3" font-family="Liberation Sans" font-size="3.4" font-weight="bold" textLength="75" lengthAdjust="spacingAndGlyphs" fill="#222">I - INSTRUMENTATION / - TELECOMMUNICATION</text>
<text x="606" y="481.6" font-family="Liberation Sans" font-size="3.1" font-weight="bold" textLength="27" lengthAdjust="spacingAndGlyphs" fill="#333">DOCUMENT TYPE</text>
<text x="647.8" y="484.1" font-family="Liberation Sans" font-size="3.4" font-weight="bold" textLength="75" lengthAdjust="spacingAndGlyphs" fill="#222">HT - INTERNAL BLOCK DIAGRAM/WIRING DIAGRAM</text>
<text x="606" y="493.4" font-family="Liberation Sans" font-size="3.3" font-weight="bold" textLength="7.5" lengthAdjust="spacingAndGlyphs" fill="#000">TITLE</text>
<text x="615.5" y="493.4" font-family="Liberation Sans" font-size="3.2" fill="#444">:</text>
<text x="622.5" y="493.2" font-family="Liberation Sans" font-size="3.2" font-weight="bold" textLength="93.8" lengthAdjust="spacingAndGlyphs" fill="#222">TELECOMMUNICATION SYSTEM, TERMINAL AND LOOP DIAGRAM FOR</text>
<text x="638.5" y="497.1" font-family="Liberation Sans" font-size="3.2" font-weight="bold" textLength="61" lengthAdjust="spacingAndGlyphs" fill="#222">SYSTEM MARINE AND TELEPHONE SYSTEM</text>
<text x="657.2" y="500.9" font-family="Liberation Sans" font-size="3.2" font-weight="bold" textLength="28" lengthAdjust="spacingAndGlyphs" fill="#333">SHEET 14 OF 34</text>
<text x="607" y="507.2" font-family="Liberation Sans" font-size="2.9" font-weight="bold" textLength="18" lengthAdjust="spacingAndGlyphs" fill="#333">PROJECT NO</text>
<text x="610" y="512.8" font-family="Liberation Sans" font-size="3.0" textLength="12" lengthAdjust="spacingAndGlyphs" fill="#555">FG1109</text>
<text x="629.5" y="507.4" font-family="Liberation Sans" font-size="2.9" textLength="32.5" lengthAdjust="spacingAndGlyphs" fill="#444">DRAWING NO. (CLIENT)</text>
<text x="629.5" y="513.5" font-family="Liberation Sans" font-size="2.9" textLength="30" lengthAdjust="spacingAndGlyphs" fill="#444">DRAWING NO. (INT.)</text>
<text x="668.5" y="507.5" font-family="Liberation Sans" font-size="3.2" font-weight="bold" textLength="51.5" lengthAdjust="spacingAndGlyphs" fill="#111">FGY-MeS-Ins-TELTEL-HTy-0006</text>
<text x="668.5" y="513.6" font-family="Liberation Sans" font-size="3.2" font-weight="bold" textLength="51.5" lengthAdjust="spacingAndGlyphs" fill="#222">FGY-MeS-Ins-TELTEL-HTy-0006</text>
<text x="724.3" y="507.2" font-family="Liberation Sans" font-size="3.0" font-weight="bold" textLength="8.5" lengthAdjust="spacingAndGlyphs" fill="#333">REV.</text>
<text x="728.7" y="513" font-family="Liberation Sans" font-size="3.2" text-anchor="middle" fill="#555">1</text>
</svg>
</body></html>
